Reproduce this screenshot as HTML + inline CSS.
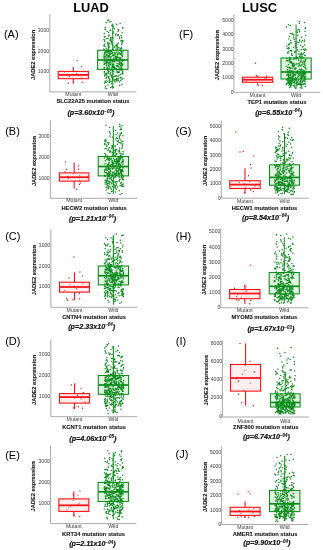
<!DOCTYPE html>
<html lang="en"><head><meta charset="utf-8"><title>JADE2 expression by mutation status</title>
<style>html,body{margin:0;padding:0;background:#fff}body{width:323px;height:550px;overflow:hidden}svg{display:block}</style></head>
<body>
<svg width="323" height="550" viewBox="0 0 323 550">
<rect width="323" height="550" fill="#fff"/>
<g font-family="'Liberation Sans', Arial, sans-serif">
<text x="91" y="11.7" font-size="12.8" font-weight="bold" text-anchor="middle" fill="#000">LUAD</text>
<text x="259.5" y="12.2" font-size="12.9" font-weight="bold" text-anchor="middle" fill="#000">LUSC</text>
<g><path d="M49.8 14.5V91.95H136.2" stroke="#9c9c9c" stroke-width="0.85" fill="none"/><text x="49.05" y="31.5" font-size="5.05" text-anchor="end" fill="#3c3c3c">3000</text><text x="49.05" y="52.5" font-size="5.05" text-anchor="end" fill="#3c3c3c">2000</text><text x="49.05" y="73.2" font-size="5.05" text-anchor="end" fill="#3c3c3c">1000</text><text transform="translate(35.4 54.93) rotate(-90) scale(0.94 1)" font-size="6.1" font-weight="bold" text-anchor="middle" fill="#1a1a1a" stroke="#1a1a1a" stroke-width="0.12">JADE2 expression</text><text x="3.9" y="37.6" font-size="11" fill="#000">(A)</text><path d="M112.8 23.6V50.2M112.8 69.4V88.8" stroke="#0c8c1c" stroke-width="1" fill="none"/><rect x="97.6" y="50.2" width="30.4" height="19.2" fill="#e0f4e0" stroke="#0c8c1c" stroke-width="1.05"/><path d="M97.6 60H128" stroke="#0c8c1c" stroke-width="1.68"/><path d="M106.7 88.8h0M105.2 88.1h0M110.8 87.6h0M113.5 87.3h0M112.1 86.8h0M105.5 86.2h0M119.7 85.5h0M108.1 85.1h0M122 84.3h0M111.4 83.8h0M104.7 83h0M109.4 82.5h0M106.1 82.4h0M119.5 82h0M115 81.9h0M111 81.7h0M105 81.6h0M107.8 81.5h0M112 81.3h0M115 81.2h0M109.6 81.1h0M117.2 80.9h0M114.8 80.8h0M120.6 80.6h0M109.3 80.5h0M106.1 80.3h0M118.3 80.2h0M113.2 80.1h0M116.6 80h0M114.8 79.8h0M109.8 79.6h0M115.2 79.5h0M112.6 79.4h0M121.9 79.2h0M116.6 79.1h0M117.3 79h0M122.9 78.8h0M109.3 78.7h0M116.6 78.6h0M112.7 78.5h0M106 78.3h0M118.6 78.2h0M108.6 78.1h0M120.5 77.9h0M112.4 77.8h0M120.8 77.6h0M120.4 77.4h0M111.8 77.4h0M120.8 77.2h0M106.7 77h0M108.3 77h0M113.1 76.8h0M108.8 76.6h0M111.8 76.6h0M114.7 76.4h0M117.1 76.2h0M115.7 76.1h0M104.8 75.9h0M118.8 75.8h0M119.1 75.6h0M111.5 75.6h0M116 75.5h0M105.1 75.3h0M106.9 75.2h0M104.8 75h0M106.7 74.9h0M110.8 74.8h0M120.6 74.6h0M106.7 74.4h0M110.5 74.3h0M106.2 74.2h0M122.9 74h0M113.1 73.9h0M105.8 73.8h0M108.9 73.6h0M106.9 73.4h0M122.1 73.4h0M106.6 73.2h0M104.3 73h0M122.6 72.9h0M117.2 72.7h0M110.8 72.7h0M118.6 72.5h0M118.8 72.4h0M108.1 72.3h0M122.7 72h0M119.3 71.9h0M118 71.8h0M113.7 71.7h0M104.4 71.6h0M109.2 71.5h0M117.1 71.3h0M112.4 71.1h0M122.8 70.9h0M110.8 70.8h0M108.2 70.7h0M107.7 70.6h0M121.1 70.4h0M113 70.2h0M119.2 70.1h0M116.5 70.1h0M118.8 69.8h0M113 69.7h0M119 69.7h0M119.2 69.5h0M111.4 69.3h0M122 69.3h0M107.1 69.2h0M106.7 69.1h0M119.3 69h0M119.7 68.9h0M116.4 68.8h0M114.3 68.7h0M104.1 68.7h0M116.3 68.5h0M121.7 68.5h0M120.5 68.4h0M107.9 68.3h0M109.4 68.2h0M115.1 68.1h0M111.8 68h0M121.3 68h0M112.6 67.8h0M121.2 67.7h0M121.4 67.7h0M114 67.6h0M104.2 67.5h0M107.3 67.4h0M119.1 67.3h0M112.9 67.2h0M114.5 67.1h0M113.8 67h0M118.9 66.9h0M114.6 66.9h0M109.1 66.8h0M113.5 66.6h0M118.4 66.6h0M112.3 66.5h0M113.5 66.4h0M117.1 66.3h0M114 66.2h0M121.9 66.1h0M120.6 66h0M108.8 65.9h0M121.9 65.9h0M106.4 65.7h0M112.3 65.7h0M108.4 65.6h0M116.7 65.5h0M121 65.4h0M117.5 65.4h0M106.5 65.2h0M122.4 65.1h0M122.1 65.1h0M113.2 65h0M119.8 64.8h0M112.1 64.8h0M110.3 64.7h0M109.9 64.6h0M104.2 64.5h0M112.3 64.4h0M110.2 64.4h0M113.6 64.2h0M122.7 64.2h0M122.5 64h0M108.9 64h0M118.8 63.9h0M106.3 63.8h0M121.3 63.7h0M108.8 63.6h0M121.4 63.6h0M117.2 63.4h0M104.9 63.4h0M112 63.3h0M121.8 63.2h0M119.2 63.1h0M120.2 63h0M120.4 62.9h0M110.3 62.8h0M121.6 62.7h0M106.3 62.7h0M108.4 62.5h0M106.9 62.5h0M107.7 62.4h0M109.7 62.3h0M109.4 62.2h0M107.2 62.1h0M104.1 62h0M104.1 61.9h0M114.4 61.8h0M112.9 61.8h0M105.8 61.6h0M112.1 61.5h0M119.8 61.5h0M113.5 61.4h0M122.7 61.3h0M119.8 61.2h0M116 61.1h0M110.5 61h0M106.3 61h0M118 60.9h0M106.9 60.8h0M120 60.7h0M116.7 60.5h0M108.5 60.5h0M112.6 60.4h0M112.4 60.3h0M122.3 60.2h0M114.3 60.1h0M122.3 60.1h0M110.6 60h0M111.1 59.9h0M113.5 59.8h0M113.5 59.7h0M108.9 59.6h0M111.5 59.5h0M104.2 59.4h0M108.3 59.3h0M114 59.2h0M116.4 59.1h0M120.7 59h0M110.1 58.9h0M106.7 58.8h0M116.1 58.7h0M119.8 58.7h0M115.8 58.5h0M119.4 58.4h0M113.9 58.4h0M119.8 58.3h0M119.7 58.2h0M120.9 58.1h0M117.1 58h0M104.4 57.9h0M110.7 57.8h0M119.8 57.8h0M115.9 57.6h0M116.9 57.5h0M103.9 57.4h0M118.2 57.3h0M114.1 57.2h0M105.1 57.1h0M108.6 57h0M108.9 57h0M107.7 56.9h0M122.5 56.8h0M111.1 56.7h0M116.9 56.6h0M115.6 56.5h0M105.3 56.4h0M108.7 56.3h0M109.6 56.2h0M104 56.1h0M109 56.1h0M117.1 55.9h0M109.4 55.8h0M112.7 55.8h0M106.1 55.7h0M107.6 55.5h0M121.8 55.4h0M112.6 55.4h0M122.4 55.3h0M109 55.2h0M122 55.1h0M115 55h0M113.9 54.9h0M106.3 54.8h0M113.6 54.7h0M117.3 54.6h0M121 54.6h0M104.3 54.4h0M113.2 54.4h0M109.6 54.3h0M110.4 54.2h0M119.9 54.1h0M118.2 54h0M106.1 53.9h0M117.5 53.8h0M109.4 53.7h0M111.3 53.6h0M115.1 53.5h0M112 53.4h0M104.7 53.3h0M119.8 53.3h0M121.8 53.2h0M108.9 53.1h0M107.4 53h0M122.2 52.9h0M119.4 52.7h0M121.3 52.7h0M114.3 52.5h0M104.7 52.5h0M112.5 52.4h0M116.2 52.3h0M104.7 52.2h0M106.2 52.1h0M110.4 52h0M118 51.9h0M108.8 51.8h0M109.6 51.7h0M111.4 51.6h0M106.9 51.6h0M121.2 51.5h0M108 51.4h0M122.9 51.2h0M106.5 51.2h0M105.5 51.1h0M105.5 51h0M108.8 50.9h0M120.8 50.8h0M111.7 50.7h0M113.9 50.6h0M110.3 50.5h0M109.1 50.5h0M106.2 50.3h0M115.9 50.2h0M107.9 50.1h0M108.6 50h0M112.4 49.8h0M120.1 49.5h0M104.2 49.4h0M117.4 49.3h0M112.9 49h0M103.8 48.9h0M121.6 48.7h0M120.2 48.5h0M108.6 48.3h0M106.8 48.3h0M116.9 48h0M117.7 47.8h0M118.5 47.7h0M114.4 47.5h0M118.8 47.4h0M121.5 47.2h0M109.6 47h0M108.6 46.9h0M117.2 46.6h0M105.2 46.5h0M115 46.3h0M108.1 46.1h0M104 45.9h0M112.6 45.8h0M116.2 45.5h0M112.9 45.4h0M108.5 45.3h0M117.3 45h0M104.2 44.9h0M116.7 44.7h0M108.7 44.6h0M121.6 44.4h0M104.5 44.3h0M111.9 44.1h0M107.6 43.8h0M118 43.6h0M107.7 43.5h0M109.8 43.3h0M108.2 43.1h0M118.4 43h0M122.1 42.9h0M107.4 42.7h0M111.8 42.5h0M122 42.2h0M111.4 42.1h0M122.5 41.8h0M104.8 41.6h0M111.4 41.3h0M120.8 40.9h0M123 40.7h0M110.1 40.4h0M121.8 40.3h0M104.4 40h0M111.1 39.7h0M110.2 39.6h0M103.9 39.4h0M110.5 39.1h0M106.2 38.7h0M107.8 38.5h0M119.6 38.4h0M112.1 38h0M112.9 37.9h0M121.5 37.6h0M110.8 37.4h0M104.4 37h0M119.4 36.9h0M104.6 36.6h0M105 36.5h0M108.7 36h0M121.1 35.8h0M109 35.7h0M115.6 35.3h0M117.6 35.2h0M109.1 35h0M118.3 34.7h0M116 34h0M104.3 33.5h0M112.9 33.4h0M122.1 32.7h0M108.6 32.6h0M113.3 32.1h0M107.3 31.5h0M118 31.2h0M118.6 30.8h0M110.1 30.4h0M110.7 30.2h0M105.3 29.6h0M118.3 29.4h0M105 29h0M114.4 28.7h0M122.6 28.1h0M122.8 27.5h0M105.4 27.3h0M113.4 26.8h0M112.4 25.6h0M111.8 25.3h0M116.7 24.2h0M120.1 23.4h0M106.1 22.8h0M109.4 21.9h0M111 21.4h0M107.6 20.5h0M108.5 20.1h0" stroke="#0c8c1c" stroke-width="1.52" stroke-linecap="round" fill="none"/><path d="M73.3 67.1V71.4M73.3 78.7V83.8" stroke="#fa1216" stroke-width="1.1" fill="none"/><rect x="58.2" y="71.4" width="30.2" height="7.3" fill="#feeeee" stroke="#fa1216" stroke-width="1.1"/><path d="M58.2 74.9H88.4" stroke="#fa1216" stroke-width="1.76"/><path d="M81.8 77.9h0M69.5 76.4h0M84.1 75.5h0M67.4 74.4h0M76.7 73.2h0M64.6 72h0" stroke="#fa1216" stroke-width="1.1" stroke-linecap="round" fill="none"/><path d="M77.2 60.6h0M81.7 66.8h0M68.3 83.3h0M82.2 82.3h0" stroke="#fa1216" stroke-width="1.4" stroke-linecap="round" fill="none"/><text x="73.3" y="96.05" font-size="5.2" text-anchor="middle" fill="#3c3c3c">Mutant</text><text x="112.8" y="96.05" font-size="5.2" text-anchor="middle" fill="#3c3c3c">Wild</text><text transform="translate(93 103.4) scale(0.94 1)" font-size="6.15" font-weight="bold" text-anchor="middle" fill="#1a1a1a" stroke="#1a1a1a" stroke-width="0.12">SLC22A25 mutation status</text><text x="90.9" y="115.1" font-size="7.2" font-weight="bold" font-style="italic" text-anchor="middle" fill="#111" stroke="#111" stroke-width="0.18">(p=3.60x10<tspan font-size="4.5" dy="-2.3" stroke-width="0.1">−05</tspan><tspan dy="2.3">)</tspan></text></g>
<g><path d="M50.4 120.3V198.3H137.1" stroke="#9c9c9c" stroke-width="0.85" fill="none"/><text x="49.65" y="137.6" font-size="5.05" text-anchor="end" fill="#3c3c3c">3000</text><text x="49.65" y="158.7" font-size="5.05" text-anchor="end" fill="#3c3c3c">2000</text><text x="49.65" y="179.5" font-size="5.05" text-anchor="end" fill="#3c3c3c">1000</text><text transform="translate(36 161) rotate(-90) scale(0.94 1)" font-size="6.1" font-weight="bold" text-anchor="middle" fill="#1a1a1a" stroke="#1a1a1a" stroke-width="0.12">JADE2 expression</text><text x="5.2" y="134.9" font-size="11" fill="#000">(B)</text><path d="M113.35 126V156.5M113.35 175.9V194" stroke="#0c8c1c" stroke-width="1" fill="none"/><rect x="98.2" y="156.5" width="30.3" height="19.4" fill="#e0f4e0" stroke="#0c8c1c" stroke-width="1.05"/><path d="M98.2 166.5H128.5" stroke="#0c8c1c" stroke-width="1.68"/><path d="M120.1 194.4h0M121.9 193.6h0M110 193.5h0M108 193h0M115.5 192h0M111.5 191.5h0M113 191h0M119.3 190.8h0M106.4 190h0M116.3 189.6h0M111.4 189.3h0M108.3 188.8h0M115.9 188.2h0M108.3 187.9h0M110.6 187.9h0M107.9 187.7h0M108.3 187.6h0M114.9 187.4h0M106.3 187.3h0M114.9 187.2h0M106.1 187h0M117.7 186.9h0M109.8 186.8h0M122.7 186.6h0M115.2 186.5h0M112.3 186.4h0M123.5 186.2h0M108.1 186.1h0M108.3 185.9h0M121.7 185.9h0M120.1 185.7h0M121.3 185.6h0M107.5 185.4h0M114.9 185.4h0M121.8 185.2h0M116.3 185.1h0M114 184.9h0M109.8 184.8h0M122.1 184.6h0M113.8 184.6h0M122.9 184.3h0M106.8 184.3h0M123.1 184.1h0M105.4 184h0M111.8 183.8h0M116.3 183.7h0M107.4 183.6h0M108.6 183.4h0M120.6 183.3h0M107.9 183.2h0M112 183.1h0M111.7 182.9h0M109.1 182.9h0M121.6 182.6h0M115.1 182.6h0M105.1 182.4h0M106.6 182.2h0M114.9 182.1h0M110.2 182h0M115.5 181.9h0M117 181.8h0M112.8 181.6h0M116.2 181.6h0M108.9 181.4h0M119.3 181.2h0M107.8 181.1h0M106.4 181h0M112.6 180.9h0M112.8 180.8h0M105.1 180.6h0M105.9 180.4h0M119.3 180.3h0M105.4 180.2h0M111.6 180h0M107 179.9h0M123.5 179.7h0M120 179.6h0M123.2 179.6h0M122.7 179.4h0M107.5 179.2h0M122.2 179.1h0M111.1 179h0M107.4 178.8h0M109.6 178.7h0M107.1 178.6h0M122 178.5h0M109.4 178.4h0M110.5 178.2h0M107.8 178.1h0M122.3 178h0M121.5 177.8h0M119.4 177.7h0M114.5 177.6h0M111.3 177.4h0M115 177.2h0M121.3 177.1h0M123.4 177.1h0M111.9 176.9h0M109.4 176.7h0M115.4 176.6h0M119 176.5h0M107.7 176.4h0M105.3 176.2h0M109.2 176.1h0M123.2 175.9h0M117.1 175.8h0M104.4 175.8h0M107.2 175.7h0M112.6 175.6h0M121.5 175.5h0M108.7 175.4h0M104.8 175.3h0M111.2 175.3h0M111.2 175.2h0M115.6 175.1h0M108.3 175h0M113.5 174.9h0M122.3 174.8h0M107.2 174.7h0M116.6 174.6h0M119.4 174.5h0M109.4 174.4h0M116.7 174.4h0M111.1 174.2h0M112.9 174.1h0M118.4 174h0M121.7 174h0M114.6 173.9h0M108.9 173.8h0M119.3 173.7h0M114.9 173.7h0M107.1 173.5h0M116 173.5h0M116.7 173.3h0M107.7 173.2h0M110.1 173.2h0M121.4 173.1h0M118.1 173h0M120.6 172.9h0M113.3 172.8h0M113 172.7h0M106.4 172.7h0M105.1 172.6h0M118.7 172.5h0M120.6 172.3h0M109.5 172.3h0M112.7 172.2h0M114.4 172.1h0M116.7 172h0M108.5 171.9h0M104.6 171.8h0M108.9 171.8h0M122.5 171.6h0M110.6 171.5h0M110.7 171.4h0M121.8 171.4h0M117.7 171.3h0M123.1 171.2h0M120.5 171.1h0M120.8 171h0M118.3 170.9h0M110.3 170.8h0M116.3 170.8h0M121.8 170.7h0M104.9 170.6h0M122.2 170.5h0M107.1 170.4h0M105.1 170.3h0M116.5 170.2h0M118.5 170.1h0M115.7 170.1h0M120 170h0M121.5 169.8h0M121 169.8h0M122.5 169.6h0M108.3 169.6h0M105 169.5h0M119.9 169.4h0M120.2 169.3h0M109.9 169.2h0M106.2 169.2h0M108.3 169h0M112.5 169h0M109.3 168.9h0M118.1 168.8h0M110.5 168.7h0M114 168.6h0M116.2 168.5h0M112.3 168.5h0M119.2 168.3h0M117.9 168.3h0M108.5 168.2h0M106.1 168h0M107.6 167.9h0M108.2 167.9h0M123.1 167.8h0M113.8 167.8h0M119.6 167.6h0M113.8 167.6h0M120.3 167.5h0M122.5 167.4h0M108.5 167.3h0M113.9 167.2h0M116.6 167.1h0M119.5 167h0M119.5 166.9h0M111.2 166.8h0M111.9 166.7h0M106 166.6h0M104.8 166.5h0M109.4 166.5h0M114 166.3h0M121.3 166.3h0M113.2 166.2h0M118.8 166.1h0M116.8 166h0M110.6 165.9h0M120.5 165.8h0M118.6 165.7h0M112.8 165.6h0M115.5 165.5h0M113.2 165.4h0M108.9 165.3h0M110.1 165.2h0M120.5 165.1h0M107.3 165.1h0M110.6 165h0M107.4 164.8h0M108 164.8h0M118.3 164.6h0M122.8 164.6h0M111.7 164.5h0M119.6 164.3h0M112.7 164.2h0M116.6 164.2h0M108.3 164.1h0M105 164h0M119.5 163.9h0M114 163.8h0M113.2 163.7h0M115.9 163.6h0M118.6 163.5h0M112.6 163.4h0M118.7 163.3h0M108.7 163.2h0M121.2 163.1h0M117.8 163h0M117.4 162.9h0M113.1 162.8h0M116.4 162.8h0M112.4 162.7h0M118 162.5h0M109.2 162.4h0M113.1 162.4h0M112.2 162.3h0M122.2 162.1h0M116.9 162.1h0M111.8 161.9h0M123.1 161.9h0M114.8 161.8h0M119.4 161.7h0M114.3 161.6h0M115.4 161.5h0M118.1 161.4h0M116.6 161.3h0M114.4 161.2h0M122.6 161.1h0M117.5 161.1h0M119 160.9h0M123.3 160.9h0M105.4 160.8h0M112 160.7h0M112.4 160.6h0M117.8 160.5h0M109.4 160.4h0M118.6 160.3h0M114.5 160.1h0M119.7 160.1h0M108.4 160h0M119.3 159.9h0M116.5 159.8h0M115.1 159.7h0M122.9 159.6h0M116.6 159.5h0M120 159.4h0M110 159.3h0M106.8 159.2h0M111.2 159.1h0M109.5 159h0M109.2 158.9h0M107.9 158.8h0M118.2 158.8h0M109.1 158.7h0M113.6 158.6h0M116.6 158.5h0M111.3 158.3h0M120.8 158.2h0M120.2 158.2h0M119.4 158h0M120.3 158h0M104.6 157.9h0M122.6 157.8h0M109.2 157.7h0M107.1 157.6h0M119.3 157.5h0M107.3 157.4h0M119.6 157.3h0M121.5 157.2h0M119.4 157.1h0M121.5 157h0M120.5 156.9h0M117.7 156.9h0M118.6 156.7h0M121.3 156.6h0M109.4 156.5h0M107 156.5h0M105.5 156.2h0M107.1 156h0M113.9 155.9h0M120.9 155.7h0M120.5 155.6h0M115.2 155.3h0M120.5 155.1h0M112.4 155h0M105.8 154.7h0M116.6 154.5h0M116.1 154.5h0M122.2 154.2h0M123.2 154h0M113.7 153.8h0M105 153.6h0M116.4 153.4h0M120.9 153.3h0M113.5 153.1h0M119.1 152.9h0M112.7 152.8h0M115 152.6h0M110 152.3h0M112.1 152.1h0M109.6 152h0M123.1 151.8h0M119.6 151.6h0M110.4 151.5h0M115.6 151.3h0M119.4 151h0M118.2 151h0M114.8 150.6h0M110.1 150.6h0M108 150.4h0M116 150.1h0M119.5 149.9h0M116.1 149.7h0M116.4 149.6h0M115.8 149.4h0M108.4 149.2h0M113.1 149h0M106.3 148.8h0M105.1 148.7h0M121.9 148.4h0M111.4 148.2h0M119.5 147.9h0M109.3 147.7h0M112.4 147.5h0M112.6 147.3h0M122.3 146.9h0M115.2 146.8h0M106.6 146.6h0M115.4 146.1h0M112.9 145.8h0M111.8 145.8h0M122.4 145.4h0M113.5 145.1h0M106.3 144.9h0M108.4 144.6h0M104.6 144.5h0M117.5 144.3h0M122.9 144h0M121 143.7h0M104.7 143.5h0M109 143.1h0M107.9 142.8h0M119.2 142.7h0M120.8 142.3h0M106 142h0M118 141.8h0M122.3 141.6h0M122.9 141.4h0M104.6 141h0M116.8 140.9h0M105.9 140.5h0M118.4 140.3h0M120.9 140h0M105.5 139.4h0M115.4 139.1h0M117.3 138.6h0M119.7 138.3h0M116.7 137.8h0M112.4 137.2h0M119.4 136.9h0M119.4 136.2h0M110 136h0M123 135.8h0M120.2 135h0M116 134.8h0M120.3 134.1h0M110.3 133.8h0M121.4 133.4h0M117.5 133h0M121.6 132.5h0M109.8 131.9h0M109.4 131.7h0M115.6 130.6h0M121.4 129.6h0M120.3 129.4h0M121 128h0M109.6 127.4h0M119.8 126.4h0M121.9 125.8h0M106 125.3h0M119.7 124.3h0" stroke="#0c8c1c" stroke-width="1.52" stroke-linecap="round" fill="none"/><path d="M74.15 162.4V172.9M74.15 181.1V188.5" stroke="#fa1216" stroke-width="1.1" fill="none"/><rect x="59.4" y="172.9" width="29.5" height="8.2" fill="#feeeee" stroke="#fa1216" stroke-width="1.1"/><path d="M59.4 177.2H88.9" stroke="#fa1216" stroke-width="1.76"/><path d="M79.7 180.3h0M68.3 178.4h0M78.1 177.6h0M67.7 176.6h0M79.7 175.7h0M73.3 173.8h0" stroke="#fa1216" stroke-width="1.1" stroke-linecap="round" fill="none"/><path d="M65.5 162.1h0M78.3 165.9h0M78.6 169.3h0M66.7 169.3h0M65 171.7h0M80.2 183h0M79.4 184.4h0M76.6 189.2h0" stroke="#fa1216" stroke-width="1.4" stroke-linecap="round" fill="none"/><text x="74.15" y="202" font-size="5.2" text-anchor="middle" fill="#3c3c3c">Mutant</text><text x="113.35" y="202" font-size="5.2" text-anchor="middle" fill="#3c3c3c">Wild</text><text transform="translate(94.1 209.5) scale(0.94 1)" font-size="6.15" font-weight="bold" text-anchor="middle" fill="#1a1a1a" stroke="#1a1a1a" stroke-width="0.12">HECW2 mutation status</text><text x="92.6" y="220.6" font-size="7.2" font-weight="bold" font-style="italic" text-anchor="middle" fill="#111" stroke="#111" stroke-width="0.18">(p=1.21x10<tspan font-size="4.5" dy="-2.3" stroke-width="0.1">−04</tspan><tspan dy="2.3">)</tspan></text></g>
<g><path d="M50.85 229.5V307.3H137.3" stroke="#9c9c9c" stroke-width="0.85" fill="none"/><text x="50.1" y="247.1" font-size="5.05" text-anchor="end" fill="#3c3c3c">3000</text><text x="50.1" y="267.8" font-size="5.05" text-anchor="end" fill="#3c3c3c">2000</text><text x="50.1" y="288.3" font-size="5.05" text-anchor="end" fill="#3c3c3c">1000</text><text transform="translate(36.45 270.1) rotate(-90) scale(0.94 1)" font-size="6.1" font-weight="bold" text-anchor="middle" fill="#1a1a1a" stroke="#1a1a1a" stroke-width="0.12">JADE2 expression</text><text x="5.2" y="239.6" font-size="11" fill="#000">(C)</text><path d="M113.4 235.2V266M113.4 284.9V304.6" stroke="#0c8c1c" stroke-width="1" fill="none"/><rect x="98.3" y="266" width="30.2" height="18.9" fill="#e0f4e0" stroke="#0c8c1c" stroke-width="1.05"/><path d="M98.3 275.7H128.5" stroke="#0c8c1c" stroke-width="1.68"/><path d="M119.9 303.2h0M108.9 302.3h0M121.6 301.9h0M114.4 301.2h0M115.7 300.9h0M108.1 300.6h0M117.9 300.1h0M115.2 299.5h0M114.3 298.9h0M105.3 298.5h0M111.6 297.6h0M116.5 297.6h0M107.4 296.8h0M111 296.7h0M104.8 296.5h0M123.4 296.5h0M113.7 296.2h0M109.4 296.2h0M112.6 296h0M119.1 295.8h0M122.9 295.7h0M105.1 295.7h0M107.9 295.6h0M105.4 295.4h0M121.1 295.3h0M122.6 295.1h0M105.6 295h0M112 294.9h0M122.8 294.8h0M115.2 294.7h0M122.8 294.5h0M111.9 294.3h0M107.5 294.2h0M123.4 294h0M105.1 294h0M111.2 293.9h0M121.8 293.7h0M105.3 293.5h0M118 293.4h0M123.3 293.3h0M107.2 293.3h0M122.4 293h0M110.1 292.9h0M119 292.8h0M110.6 292.7h0M106.8 292.6h0M107.6 292.4h0M107.1 292.3h0M104.6 292.2h0M108.1 292h0M122.2 292h0M122.3 291.8h0M121.5 291.6h0M113 291.6h0M122.2 291.5h0M116.5 291.2h0M110.9 291.1h0M113.6 291h0M107.1 290.9h0M105.5 290.8h0M115 290.6h0M121.1 290.5h0M112.3 290.4h0M109.6 290.3h0M110.8 290.1h0M113.8 290h0M121.7 289.9h0M123.2 289.8h0M121.6 289.7h0M108.5 289.4h0M109.9 289.3h0M108.3 289.2h0M123.4 289.1h0M122.2 288.9h0M110 288.9h0M105.5 288.6h0M110 288.5h0M104.7 288.4h0M110.9 288.3h0M104.4 288.2h0M114.5 288h0M112.8 288h0M108.6 287.7h0M107.1 287.7h0M119.2 287.6h0M108.2 287.4h0M106.1 287.3h0M113.9 287.1h0M108.4 287.1h0M118 286.9h0M115.6 286.7h0M105.7 286.7h0M112.2 286.5h0M105.5 286.4h0M110.8 286.2h0M121 286.1h0M104.7 286h0M113.6 285.8h0M109.5 285.7h0M120.4 285.6h0M107.5 285.5h0M115.8 285.4h0M114.4 285.3h0M114.3 285.1h0M118.1 285h0M121 284.8h0M118.1 284.8h0M118.8 284.7h0M121.2 284.6h0M113.9 284.5h0M114.6 284.4h0M104.8 284.3h0M108.7 284.2h0M106.4 284.2h0M120.1 284.1h0M106.3 284h0M108.1 283.9h0M115.9 283.8h0M114.4 283.7h0M106.4 283.6h0M118.2 283.5h0M106.8 283.5h0M114 283.4h0M106.7 283.3h0M107 283.2h0M120.9 283.1h0M115.4 283h0M107.6 282.9h0M122.4 282.8h0M112.5 282.8h0M114.5 282.6h0M122.5 282.6h0M110.9 282.5h0M110.8 282.4h0M123.2 282.3h0M121.9 282.2h0M120.7 282.1h0M114.3 282.1h0M122.3 281.9h0M112.5 281.9h0M111.4 281.8h0M105.7 281.7h0M114.1 281.6h0M107.1 281.6h0M119.3 281.4h0M116.6 281.3h0M121.4 281.2h0M105.1 281.1h0M109.5 281.1h0M109.6 281h0M122.1 280.9h0M109.2 280.8h0M112.7 280.7h0M109.9 280.6h0M116.8 280.6h0M115.8 280.5h0M114.3 280.3h0M113.4 280.3h0M107.2 280.2h0M106.9 280.2h0M112.2 280.1h0M109.1 280h0M114.9 279.9h0M116.1 279.7h0M116.9 279.7h0M118 279.6h0M114.9 279.5h0M113.4 279.4h0M109.1 279.4h0M114.2 279.3h0M115.6 279.2h0M111.2 279.1h0M109 279h0M113.8 278.9h0M123.4 278.8h0M119.2 278.7h0M105.7 278.7h0M112.8 278.5h0M111.8 278.5h0M118.5 278.4h0M108.7 278.3h0M118.6 278.2h0M110.9 278.1h0M117.4 278h0M120.7 277.9h0M114.3 277.8h0M118.7 277.7h0M113.5 277.6h0M118 277.6h0M106.8 277.5h0M104.5 277.4h0M115.6 277.3h0M122.9 277.2h0M112.4 277.1h0M121.2 277h0M111.7 277h0M113.2 276.9h0M110 276.8h0M115.1 276.7h0M110.6 276.6h0M120.7 276.5h0M112.9 276.4h0M110.2 276.4h0M115.4 276.3h0M106.1 276.2h0M110.6 276.1h0M120.5 276h0M108.3 275.9h0M121.9 275.8h0M105.3 275.8h0M113.9 275.6h0M119.3 275.5h0M123.6 275.5h0M114.3 275.4h0M111.9 275.3h0M115.8 275.2h0M122.6 275.1h0M114.5 275h0M111.6 275h0M115.2 274.8h0M121.3 274.7h0M113.7 274.6h0M116.4 274.6h0M111 274.4h0M120.1 274.4h0M110.5 274.3h0M120.3 274.1h0M106.5 274.1h0M117.6 274h0M123.4 273.9h0M112.5 273.8h0M110 273.7h0M114.1 273.6h0M107.9 273.6h0M116 273.4h0M123.5 273.4h0M105.2 273.2h0M119.5 273.2h0M117.7 273.1h0M110.2 273h0M115.7 272.9h0M108.2 272.8h0M115 272.7h0M116.8 272.6h0M123.5 272.5h0M112.3 272.4h0M107.4 272.4h0M106.4 272.2h0M107.7 272.2h0M120.2 272h0M119.9 271.9h0M104.6 271.9h0M110.6 271.7h0M111.2 271.7h0M109.5 271.6h0M121.8 271.5h0M111.1 271.4h0M111.8 271.3h0M121.5 271.3h0M122.8 271.1h0M116.3 271h0M105.2 271h0M120.8 270.8h0M121.7 270.8h0M110.2 270.6h0M122.8 270.6h0M122.6 270.5h0M111.9 270.4h0M108.7 270.3h0M121.2 270.2h0M119.6 270.1h0M107.7 270h0M108 269.9h0M110 269.8h0M106.6 269.7h0M111.8 269.6h0M105.7 269.6h0M120.3 269.5h0M109.1 269.4h0M109.8 269.3h0M105.1 269.2h0M111 269.1h0M118 269h0M109.6 268.9h0M106.9 268.8h0M120.5 268.7h0M107.5 268.6h0M118.3 268.6h0M122.8 268.5h0M122.7 268.4h0M108.8 268.3h0M106.9 268.2h0M109.4 268.1h0M115.7 267.9h0M109.1 267.9h0M108.5 267.8h0M106.8 267.7h0M114.8 267.6h0M119.2 267.5h0M117 267.4h0M110.4 267.3h0M106.1 267.3h0M120.7 267.2h0M117.1 267.1h0M115.2 267h0M114 266.9h0M105.7 266.8h0M108.7 266.7h0M118.2 266.6h0M112.1 266.5h0M119.3 266.4h0M120.9 266.3h0M109.7 266.3h0M117.4 266.2h0M111.1 266h0M117.1 265.9h0M109.2 265.7h0M111.2 265.5h0M107.9 265.3h0M121.9 265.3h0M118.1 265h0M105.2 264.9h0M108.2 264.7h0M111.7 264.5h0M110.4 264.4h0M107.8 264.1h0M115.3 263.9h0M109.3 263.7h0M117.5 263.6h0M104.4 263.4h0M119.3 263.1h0M105.2 263h0M116.1 262.8h0M109.1 262.7h0M119.6 262.5h0M122 262.3h0M106.1 262.1h0M112 261.9h0M120.3 261.7h0M106.1 261.6h0M112.5 261.3h0M117.7 261.1h0M120.3 261h0M113.1 260.8h0M117.8 260.7h0M114.2 260.5h0M106.9 260.2h0M105.2 260.1h0M119.9 259.9h0M114.9 259.8h0M116.6 259.5h0M109.2 259.4h0M111.3 259.3h0M108.3 259h0M107 258.9h0M117.3 258.6h0M109 258.5h0M112.9 258.3h0M111.1 258h0M121.4 257.9h0M115.2 257.7h0M120.1 257.4h0M119 257.1h0M117.2 257h0M113.3 256.6h0M120.4 256.3h0M110 256.2h0M108.4 255.9h0M109.8 255.7h0M117.9 255.4h0M106.6 255.1h0M113.4 254.9h0M107.6 254.6h0M104.6 254.5h0M118.8 254h0M118.2 253.9h0M115.2 253.5h0M113.8 253.4h0M108 253.1h0M104.6 252.8h0M116.8 252.5h0M122.4 252.3h0M109.2 252h0M107.1 251.9h0M119.3 251.7h0M110.1 251.2h0M116.7 251.1h0M122.2 250.7h0M119.5 250.6h0M118.7 250.2h0M107.9 250.1h0M110.5 249.5h0M115 249.3h0M120.4 248.8h0M105.2 248.5h0M116.5 247.9h0M117.9 247.4h0M122.5 246.9h0M114 246.7h0M110.2 246.4h0M105.9 245.8h0M107.5 245.3h0M123 245h0M105.2 244.7h0M108.1 244.1h0M104.5 243.6h0M120.8 243.1h0M112.6 242.7h0M117.1 242.5h0M112.5 242h0M112.8 241.4h0M120.3 240.3h0M107.6 239.4h0M112.9 239.1h0M111.1 238.1h0M106 237.7h0M113.2 236.8h0M121.8 235.5h0M123.1 234.9h0M116.3 234h0" stroke="#0c8c1c" stroke-width="1.52" stroke-linecap="round" fill="none"/><path d="M74.5 272.2V282.2M74.5 292.1V300.2" stroke="#fa1216" stroke-width="1.1" fill="none"/><rect x="59.5" y="282.2" width="30" height="9.9" fill="#feeeee" stroke="#fa1216" stroke-width="1.1"/><path d="M59.5 287H89.5" stroke="#fa1216" stroke-width="1.76"/><path d="M64.8 290.3h0M76.9 289h0M76.1 288.1h0M74.1 285.7h0M70.1 284.7h0M83 283.7h0" stroke="#fa1216" stroke-width="1.1" stroke-linecap="round" fill="none"/><path d="M74 257h0M79.9 272h0M82.5 275.9h0M69 277.9h0M79.4 293.3h0M66.7 298.8h0M67.8 300.3h0M72.9 299.8h0M79.7 298.8h0" stroke="#fa1216" stroke-width="1.4" stroke-linecap="round" fill="none"/><text x="74.5" y="312.1" font-size="5.2" text-anchor="middle" fill="#3c3c3c">Mutant</text><text x="113.4" y="312.1" font-size="5.2" text-anchor="middle" fill="#3c3c3c">Wild</text><text transform="translate(94 319.05) scale(0.94 1)" font-size="6.15" font-weight="bold" text-anchor="middle" fill="#1a1a1a" stroke="#1a1a1a" stroke-width="0.12">CNTN4 mutation status</text><text x="91.7" y="328.6" font-size="7.2" font-weight="bold" font-style="italic" text-anchor="middle" fill="#111" stroke="#111" stroke-width="0.18">(p=2.33x10<tspan font-size="4.5" dy="-2.3" stroke-width="0.1">−04</tspan><tspan dy="2.3">)</tspan></text></g>
<g><path d="M50.85 339.5V416.7H137" stroke="#9c9c9c" stroke-width="0.85" fill="none"/><text x="50.1" y="356.2" font-size="5.05" text-anchor="end" fill="#3c3c3c">3000</text><text x="50.1" y="377" font-size="5.05" text-anchor="end" fill="#3c3c3c">2000</text><text x="50.1" y="398" font-size="5.05" text-anchor="end" fill="#3c3c3c">1000</text><text transform="translate(36.45 379.8) rotate(-90) scale(0.94 1)" font-size="6.1" font-weight="bold" text-anchor="middle" fill="#1a1a1a" stroke="#1a1a1a" stroke-width="0.12">JADE2 expression</text><text x="5.2" y="344.8" font-size="11" fill="#000">(D)</text><path d="M113.45 346V375.5M113.45 394.3V413.3" stroke="#0c8c1c" stroke-width="1" fill="none"/><rect x="98.3" y="375.5" width="30.3" height="18.8" fill="#e0f4e0" stroke="#0c8c1c" stroke-width="1.05"/><path d="M98.3 385H128.6" stroke="#0c8c1c" stroke-width="1.68"/><path d="M108.1 413.5h0M113 412.6h0M117.1 412.4h0M115.6 411.7h0M114.6 411.1h0M112.1 410.5h0M107.9 410.2h0M115 409.3h0M121 409.2h0M106.3 408.6h0M109.3 407.9h0M115.1 407.4h0M115.4 407h0M114.3 406.7h0M106 406.5h0M105.9 406.4h0M121 406.3h0M118.2 406.1h0M106.7 405.9h0M118.3 405.8h0M120.4 405.8h0M107.7 405.6h0M115.3 405.4h0M107.1 405.3h0M105.6 405.1h0M111.6 405.1h0M115.9 405h0M110.2 404.8h0M112.6 404.6h0M116.4 404.4h0M115.3 404.3h0M121.2 404.2h0M118.8 404.1h0M119.1 404h0M120.3 403.8h0M111.6 403.7h0M122.7 403.5h0M105.3 403.4h0M106.4 403.3h0M119.9 403.1h0M122.2 403.1h0M109.3 402.9h0M113 402.8h0M115.6 402.6h0M104.9 402.5h0M119.8 402.4h0M115.1 402.2h0M117.6 402.1h0M107.2 401.9h0M114.8 401.7h0M120 401.6h0M104.7 401.5h0M107.3 401.4h0M121.2 401.3h0M105.1 401.1h0M120.2 401h0M112 400.8h0M107.5 400.7h0M112 400.5h0M116.2 400.4h0M110.8 400.4h0M121.6 400.2h0M105.3 400h0M111.4 399.9h0M115.5 399.8h0M111.2 399.7h0M115.6 399.6h0M104.8 399.4h0M123.4 399.2h0M107.2 399.2h0M109.7 398.9h0M114.1 398.9h0M115.4 398.7h0M122.8 398.6h0M105.1 398.4h0M119.3 398.3h0M119.3 398.1h0M116.6 398h0M109.9 397.9h0M121.2 397.7h0M117.5 397.5h0M119.1 397.5h0M114.2 397.3h0M111.2 397.2h0M112.2 397.1h0M110.9 397h0M123.4 396.8h0M111.5 396.7h0M109 396.6h0M107.1 396.4h0M121.2 396.3h0M113 396.1h0M110.3 396h0M105.7 395.9h0M110.4 395.7h0M115 395.6h0M111 395.4h0M115.7 395.3h0M107.9 395.2h0M123.4 395h0M119.3 394.9h0M121.1 394.8h0M113.8 394.7h0M109.7 394.4h0M104.9 394.4h0M109.6 394.3h0M108.6 394.1h0M108.3 394.1h0M121 394h0M108.2 393.9h0M122.9 393.8h0M106 393.7h0M121.3 393.6h0M107.1 393.6h0M114.8 393.5h0M116.7 393.3h0M108.5 393.2h0M118.8 393.2h0M112.2 393.1h0M110.9 393h0M112.4 393h0M116.5 392.9h0M113.9 392.8h0M109.4 392.7h0M104.7 392.6h0M115.3 392.4h0M105.5 392.4h0M118.4 392.3h0M106.2 392.2h0M107.2 392.2h0M106.2 392h0M112.6 391.9h0M115.7 391.9h0M117.1 391.8h0M110.8 391.7h0M109.4 391.6h0M119.1 391.5h0M110.4 391.4h0M123.2 391.3h0M109.8 391.2h0M122.5 391.2h0M104.6 391.1h0M117 391h0M111.4 390.9h0M108.8 390.8h0M106.2 390.7h0M107 390.7h0M114.1 390.6h0M107.9 390.4h0M111.5 390.3h0M107.9 390.3h0M122.1 390.2h0M105 390.1h0M109.1 390h0M114 389.9h0M111.1 389.8h0M113.3 389.7h0M121.8 389.7h0M118.5 389.6h0M116.8 389.5h0M121 389.4h0M115.3 389.3h0M122.1 389.2h0M116.5 389.1h0M109.3 389.1h0M112.8 389h0M108.4 388.9h0M116.8 388.7h0M123.5 388.7h0M115.4 388.6h0M121 388.5h0M109.6 388.4h0M120.2 388.3h0M110.8 388.3h0M121.6 388.1h0M117.6 388.1h0M113.1 388h0M121.4 387.9h0M121.4 387.8h0M119.4 387.7h0M108 387.6h0M123.6 387.5h0M104.9 387.5h0M123.2 387.4h0M122 387.3h0M118.6 387.2h0M107.7 387.1h0M106.2 387h0M122.1 386.9h0M121.4 386.8h0M105.1 386.7h0M119.7 386.7h0M105.2 386.5h0M108.9 386.5h0M106.5 386.4h0M123.5 386.3h0M121.3 386.2h0M113.8 386.1h0M112.7 386.1h0M117.6 386h0M118.6 385.9h0M106.6 385.8h0M114 385.7h0M111.2 385.5h0M123 385.5h0M118.5 385.4h0M107.9 385.3h0M105.8 385.2h0M114.2 385.2h0M115.1 385.1h0M104.7 385h0M117 384.8h0M115 384.8h0M123.3 384.7h0M118.2 384.6h0M110.6 384.5h0M123.1 384.4h0M111.8 384.3h0M107.2 384.2h0M104.6 384.1h0M122.2 384h0M116.2 384h0M109.1 383.9h0M106.7 383.8h0M119.5 383.7h0M105.4 383.6h0M110.7 383.5h0M115 383.4h0M123.1 383.3h0M118.8 383.3h0M114.2 383.1h0M123.5 383h0M116.5 383h0M111.7 382.9h0M112 382.8h0M116.2 382.7h0M110.6 382.6h0M114.9 382.5h0M116.2 382.4h0M121.9 382.4h0M118.3 382.2h0M113.6 382.1h0M107.2 382.1h0M114.6 381.9h0M114.6 381.9h0M109 381.8h0M120.2 381.7h0M116.7 381.6h0M121.6 381.5h0M105.3 381.4h0M120.4 381.3h0M106.8 381.2h0M109.3 381.2h0M111.3 381.1h0M114.5 380.9h0M106.1 380.9h0M123.6 380.8h0M113.1 380.7h0M119.8 380.6h0M107.3 380.5h0M111.5 380.4h0M109 380.3h0M111 380.3h0M104.8 380.2h0M115.4 380.1h0M107.9 380h0M109.7 379.9h0M109.1 379.8h0M106.2 379.7h0M120.9 379.6h0M112.6 379.6h0M116.3 379.4h0M105.3 379.4h0M111.5 379.3h0M110.1 379.1h0M116.9 379.1h0M111.2 379h0M115.6 378.9h0M108.1 378.8h0M118.1 378.7h0M117.2 378.6h0M105.8 378.5h0M111.7 378.4h0M114 378.3h0M119 378.2h0M115.8 378.2h0M113.3 378.1h0M112.4 378h0M121.5 377.9h0M113.9 377.8h0M120.3 377.7h0M118.7 377.6h0M105.2 377.5h0M115.1 377.4h0M119.2 377.3h0M108.7 377.3h0M120.1 377.2h0M106.1 377.1h0M115.3 377h0M117.5 376.9h0M113.7 376.8h0M117.7 376.8h0M115.7 376.6h0M120.1 376.5h0M107.2 376.4h0M114.4 376.4h0M123.4 376.3h0M109.5 376.2h0M109.3 376.1h0M115.1 376h0M112.5 375.9h0M110.3 375.9h0M119.8 375.7h0M109.4 375.6h0M105.5 375.6h0M111.6 375.4h0M113.8 375.2h0M111.5 375h0M108.3 374.8h0M115.1 374.6h0M110.5 374.6h0M112.3 374.3h0M110.7 374.1h0M119.7 374h0M118.1 373.8h0M115.8 373.5h0M122.4 373.4h0M121.3 373.2h0M112.8 373.1h0M105.4 372.8h0M105.8 372.6h0M107.9 372.5h0M115.2 372.2h0M114 372.1h0M117.4 371.9h0M108.5 371.8h0M107.2 371.5h0M108.4 371.3h0M106.3 371.3h0M122.7 371h0M117.1 370.8h0M121.8 370.7h0M107.4 370.4h0M117.8 370.4h0M120.5 370.2h0M108.9 370h0M110.6 369.7h0M107.4 369.5h0M110.7 369.3h0M107.4 369.1h0M123.3 368.9h0M105.1 368.8h0M116.8 368.7h0M114.9 368.5h0M113.4 368.3h0M112.7 368h0M106.6 367.9h0M106.8 367.7h0M123.6 367.5h0M114.6 367.2h0M111.1 367.1h0M114 366.7h0M106.2 366.4h0M121 366.3h0M114.8 366h0M107.1 365.9h0M121.6 365.6h0M108.8 365.2h0M105.1 364.9h0M123 364.7h0M122.6 364.5h0M105.4 364.2h0M113.1 364h0M118.7 363.8h0M119.6 363.6h0M105.8 363.3h0M106.3 362.9h0M119.6 362.7h0M113.3 362.4h0M114.3 362.3h0M116.9 362h0M115.5 361.8h0M111.6 361.5h0M107.6 361.1h0M122.5 361h0M120.6 360.7h0M113.7 360.3h0M106.3 360.2h0M106.7 359.8h0M114.7 359.6h0M113.4 359.5h0M114.7 359.1h0M111.5 358.5h0M112.2 358.2h0M106.9 357.8h0M121.2 357.4h0M121.5 356.8h0M122.6 356.6h0M119.6 356h0M117.7 355.5h0M118.9 355.2h0M109.5 354.8h0M112 354.5h0M110.1 353.8h0M106.1 353.2h0M108.9 353h0M119.5 352.5h0M105.6 352h0M116 351.8h0M105.2 350.9h0M117.7 350.4h0M111 349.5h0M113.3 348.7h0M104.7 347.9h0M112.4 347.1h0M106.1 346.7h0M118.5 346.1h0M107.4 345h0M107.1 344.5h0M108.7 343.8h0" stroke="#0c8c1c" stroke-width="1.52" stroke-linecap="round" fill="none"/><path d="M74.55 383.9V393.6M74.55 403.1V408.9" stroke="#fa1216" stroke-width="1.1" fill="none"/><rect x="59.5" y="393.6" width="30.1" height="9.5" fill="#feeeee" stroke="#fa1216" stroke-width="1.1"/><path d="M59.5 397.1H89.6" stroke="#fa1216" stroke-width="1.76"/><path d="M85 401.9h0M81 398.9h0M74.5 398h0M83.5 396.3h0M77.6 395.4h0M77.3 395h0" stroke="#fa1216" stroke-width="1.1" stroke-linecap="round" fill="none"/><path d="M71.4 385h0M74.8 383.9h0M81 388.6h0M83.3 392.4h0M73.2 407.9h0M78.3 406.8h0M82.5 408.2h0" stroke="#fa1216" stroke-width="1.4" stroke-linecap="round" fill="none"/><text x="74.55" y="421.1" font-size="5.2" text-anchor="middle" fill="#3c3c3c">Mutant</text><text x="113.45" y="421.1" font-size="5.2" text-anchor="middle" fill="#3c3c3c">Wild</text><text transform="translate(94 428.6) scale(0.94 1)" font-size="6.15" font-weight="bold" text-anchor="middle" fill="#1a1a1a" stroke="#1a1a1a" stroke-width="0.12">KCNT1 mutation status</text><text x="92.8" y="440.5" font-size="7.2" font-weight="bold" font-style="italic" text-anchor="middle" fill="#111" stroke="#111" stroke-width="0.18">(p=4.06x10<tspan font-size="4.5" dy="-2.3" stroke-width="0.1">−05</tspan><tspan dy="2.3">)</tspan></text></g>
<g><path d="M50.55 445.8V523.6H136.2" stroke="#9c9c9c" stroke-width="0.85" fill="none"/><text x="49.8" y="463" font-size="5.05" text-anchor="end" fill="#3c3c3c">3000</text><text x="49.8" y="484.1" font-size="5.05" text-anchor="end" fill="#3c3c3c">2000</text><text x="49.8" y="504.9" font-size="5.05" text-anchor="end" fill="#3c3c3c">1000</text><text transform="translate(35.45 486.4) rotate(-90) scale(0.94 1)" font-size="6.1" font-weight="bold" text-anchor="middle" fill="#1a1a1a" stroke="#1a1a1a" stroke-width="0.12">JADE2 expression</text><text x="5.2" y="458.9" font-size="11" fill="#000">(E)</text><path d="M113.25 452.5V482.4M113.25 501.5V519.4" stroke="#0c8c1c" stroke-width="1" fill="none"/><rect x="98.1" y="482.4" width="30.3" height="19.1" fill="#e0f4e0" stroke="#0c8c1c" stroke-width="1.05"/><path d="M98.1 491.8H128.4" stroke="#0c8c1c" stroke-width="1.68"/><path d="M119.4 519.6h0M118 519.4h0M107.4 518.8h0M117.2 518h0M106.8 517.6h0M122.2 517h0M118.6 516.5h0M119.7 516h0M112.6 515.6h0M119.3 515h0M110 514.4h0M114.5 513.9h0M106.5 513.5h0M119.4 513.3h0M120.3 513.3h0M108.1 513.2h0M108.8 513h0M121.7 512.9h0M117.9 512.7h0M119.3 512.6h0M117.4 512.5h0M120.1 512.3h0M105.9 512.2h0M120.3 512.1h0M115.7 512h0M119.5 511.8h0M113.6 511.8h0M106.4 511.6h0M112.3 511.4h0M113 511.3h0M108.4 511.2h0M120.5 511.1h0M109.9 510.9h0M109.5 510.9h0M112.7 510.6h0M119.7 510.5h0M117.4 510.5h0M120.1 510.3h0M109.5 510.2h0M111.2 510h0M121.3 509.9h0M121.4 509.7h0M113.8 509.6h0M114 509.4h0M107.9 509.3h0M107.4 509.2h0M104.3 509.1h0M122.4 509h0M119.8 508.9h0M111 508.8h0M114.9 508.6h0M114.1 508.4h0M122.1 508.3h0M117 508.2h0M116.2 508.1h0M122.6 507.9h0M116.9 507.8h0M111.5 507.7h0M117.2 507.5h0M113.8 507.4h0M123 507.3h0M120.3 507.2h0M115 507h0M118.7 506.9h0M118.2 506.7h0M104.9 506.6h0M106.9 506.5h0M121.4 506.3h0M115.5 506.3h0M105.1 506.1h0M118.6 506h0M109.6 505.8h0M109.8 505.7h0M112.3 505.6h0M116.7 505.4h0M117.2 505.3h0M122.7 505.2h0M117.5 505.1h0M107.4 505h0M120.1 504.8h0M110.9 504.7h0M114.2 504.6h0M107.4 504.4h0M107.5 504.3h0M105.3 504.2h0M111.6 504.1h0M122.7 503.8h0M110.2 503.8h0M108 503.6h0M112.7 503.5h0M109.2 503.4h0M111.7 503.3h0M109.4 503.1h0M121.7 503h0M120.3 502.9h0M119.2 502.7h0M107.2 502.6h0M113.3 502.4h0M117.1 502.3h0M109.5 502.2h0M121.9 502.1h0M109.8 502h0M109.2 501.8h0M105 501.7h0M115.1 501.5h0M122.3 501.5h0M108.9 501.4h0M114.8 501.3h0M117.3 501.2h0M119.8 501.1h0M110.1 501h0M122.8 500.9h0M117.5 500.8h0M111.8 500.7h0M118.5 500.6h0M111.8 500.5h0M111 500.4h0M121 500.4h0M114.3 500.2h0M121.6 500.1h0M110.8 500.1h0M112.2 500h0M120.6 499.9h0M115.3 499.8h0M115.3 499.7h0M120.5 499.6h0M120.3 499.5h0M117.1 499.5h0M113.9 499.3h0M121.5 499.2h0M120 499.1h0M121.1 499h0M117.8 499h0M116 498.8h0M105.5 498.8h0M120.1 498.7h0M108.3 498.6h0M106.1 498.5h0M123 498.4h0M111.2 498.3h0M105.6 498.2h0M110.5 498.1h0M116.3 498.1h0M109.5 498h0M112.8 497.9h0M119.8 497.8h0M120.1 497.7h0M108.6 497.6h0M110.8 497.5h0M115.2 497.4h0M119.5 497.3h0M120.4 497.2h0M114.6 497.1h0M119.2 497.1h0M113.9 497h0M105.5 496.8h0M118.2 496.7h0M111.9 496.6h0M115.6 496.6h0M120.9 496.5h0M119.7 496.3h0M110.6 496.2h0M105.6 496.1h0M106.8 496.1h0M117.4 496h0M113 495.9h0M107.9 495.8h0M109.7 495.7h0M118.4 495.7h0M112.7 495.5h0M117.8 495.5h0M109.3 495.4h0M117.7 495.3h0M118.6 495.1h0M121.9 495h0M118.1 495h0M108.2 494.9h0M120.8 494.8h0M116.3 494.7h0M111.1 494.6h0M116.4 494.6h0M110.1 494.4h0M107.6 494.4h0M121.5 494.3h0M113 494.1h0M106.3 494.1h0M119.2 494h0M123.3 493.9h0M119.5 493.7h0M120 493.7h0M106.3 493.6h0M114 493.5h0M109.1 493.4h0M121.7 493.4h0M122.4 493.2h0M112.6 493.1h0M111.6 493h0M120.4 492.9h0M104.5 492.9h0M115.5 492.8h0M104.4 492.7h0M119.3 492.6h0M105.1 492.5h0M114.5 492.4h0M110.5 492.3h0M121.2 492.2h0M116.5 492.1h0M108.9 492.1h0M111.6 491.9h0M115.6 491.9h0M108.1 491.8h0M115.5 491.7h0M117.8 491.6h0M105.5 491.5h0M105.3 491.4h0M111.9 491.3h0M118 491.2h0M116.7 491.2h0M113.3 491h0M121.7 491h0M105.5 490.9h0M123.2 490.8h0M111.8 490.7h0M120.1 490.6h0M118.5 490.5h0M106.1 490.5h0M119.7 490.3h0M105.2 490.3h0M122.1 490.2h0M117.2 490.1h0M116.5 489.9h0M109.3 489.8h0M104.6 489.8h0M106.2 489.7h0M117.9 489.6h0M119.7 489.5h0M114.1 489.5h0M119.4 489.4h0M121.8 489.2h0M120.6 489.2h0M120 489.1h0M116.2 489h0M119.6 488.9h0M105.3 488.8h0M109.8 488.7h0M104.4 488.6h0M104.7 488.5h0M119.8 488.4h0M106.6 488.4h0M108.2 488.3h0M106.4 488.2h0M114.7 488h0M106.1 488h0M120.6 487.9h0M106.2 487.8h0M110.1 487.7h0M107.1 487.6h0M123 487.5h0M104.4 487.4h0M106.4 487.4h0M115.7 487.3h0M113 487.2h0M116 487.1h0M121.8 487h0M119.5 486.9h0M120.3 486.8h0M104.8 486.7h0M120.6 486.6h0M121.1 486.6h0M122.4 486.5h0M117.8 486.4h0M110 486.3h0M110.5 486.2h0M112.8 486.2h0M116.8 486h0M118.9 485.9h0M123.3 485.8h0M109.5 485.7h0M112.2 485.7h0M108.7 485.6h0M121.9 485.5h0M119 485.4h0M121.3 485.3h0M114.5 485.2h0M120.1 485.2h0M116.3 485.1h0M114.6 485h0M107.3 484.8h0M116.7 484.8h0M122.3 484.7h0M121.8 484.6h0M122.8 484.5h0M108.3 484.5h0M121.7 484.3h0M109.2 484.3h0M123.3 484.1h0M112.7 484.1h0M117.5 483.9h0M118.7 483.9h0M109.2 483.8h0M117.5 483.7h0M109.2 483.6h0M116.6 483.5h0M116.8 483.4h0M117.6 483.3h0M105.5 483.3h0M104.5 483.2h0M107 483.1h0M113.7 483h0M117.5 482.9h0M119 482.8h0M106.2 482.7h0M112.1 482.6h0M112.8 482.5h0M106.1 482.4h0M110.8 482.2h0M104.8 482.1h0M108.6 481.9h0M119.7 481.7h0M109.6 481.5h0M107.9 481.5h0M107.3 481.1h0M115.5 481h0M107.7 480.8h0M106.1 480.7h0M111.6 480.4h0M115.2 480.3h0M105.5 480.2h0M120.6 480h0M122.7 479.8h0M118.1 479.6h0M119.4 479.4h0M111.3 479.2h0M106.4 479h0M119.5 478.9h0M111.6 478.7h0M108.6 478.4h0M108.5 478.3h0M111.3 478.1h0M113.3 477.9h0M105.2 477.6h0M120.3 477.5h0M104.8 477.4h0M106.5 477.2h0M117.9 477h0M106.5 476.9h0M107.6 476.6h0M112.7 476.5h0M105.6 476.3h0M113.3 476.1h0M114.9 475.8h0M108.5 475.8h0M115.1 475.5h0M122.7 475.3h0M106.4 475.1h0M114.3 474.9h0M107.5 474.8h0M108.3 474.5h0M109.3 474.5h0M113.1 474.1h0M105.7 473.9h0M110.4 473.7h0M117 473.5h0M106.5 473.2h0M113.5 472.8h0M104.5 472.7h0M114.1 472.4h0M113.3 472.3h0M114.6 471.8h0M113.8 471.7h0M116.8 471.3h0M119.7 471.2h0M118.5 470.7h0M111.3 470.5h0M107.7 470.2h0M115.7 470.2h0M105.8 469.7h0M104.9 469.6h0M106.9 469.3h0M118.6 469.1h0M122.3 468.8h0M117.3 468.6h0M122.5 468.4h0M113.4 468.1h0M122.5 467.8h0M123.3 467.5h0M108.4 467.2h0M108.1 466.9h0M113 466.6h0M122.7 466.6h0M112.1 466.3h0M117.1 465.9h0M111.4 465.6h0M120.1 465.1h0M115.9 464.7h0M113 464.2h0M117.9 463.6h0M108.9 463.4h0M122.7 463h0M106.9 462.5h0M115.4 461.9h0M105.3 461.4h0M107.5 461.2h0M112.9 460.6h0M121.3 460.3h0M120.8 459.7h0M109.4 459.2h0M112.1 458.8h0M121.8 458.7h0M104.6 458.3h0M109.8 457.5h0M121 456.2h0M114.4 455.8h0M119.7 454.7h0M114.1 454.1h0M108.9 453.8h0M115.5 452.6h0M121.5 451.7h0M107.9 450.8h0M121.5 450.7h0" stroke="#0c8c1c" stroke-width="1.52" stroke-linecap="round" fill="none"/><path d="M73.85 491.2V498.9M73.85 511.4V516.7" stroke="#fa1216" stroke-width="1.1" fill="none"/><rect x="58.9" y="498.9" width="29.9" height="12.5" fill="#feeeee" stroke="#fa1216" stroke-width="1.1"/><path d="M58.9 505.3H88.8" stroke="#fa1216" stroke-width="1.76"/><path d="M66.8 509.8h0M68.5 507.7h0M70.9 506.7h0M77.8 504.3h0M79.2 503.2h0M73.2 500.2h0" stroke="#fa1216" stroke-width="1.1" stroke-linecap="round" fill="none"/><path d="M79.9 490.9h0M73.2 494.7h0M77.9 495.1h0M74.3 514.9h0M79.7 516.5h0" stroke="#fa1216" stroke-width="1.4" stroke-linecap="round" fill="none"/><text x="73.85" y="528.3" font-size="5.2" text-anchor="middle" fill="#3c3c3c">Mutant</text><text x="113.25" y="528.3" font-size="5.2" text-anchor="middle" fill="#3c3c3c">Wild</text><text transform="translate(93.5 535.5) scale(0.94 1)" font-size="6.15" font-weight="bold" text-anchor="middle" fill="#1a1a1a" stroke="#1a1a1a" stroke-width="0.12">KRT34 mutation status</text><text x="92.4" y="546.2" font-size="7.2" font-weight="bold" font-style="italic" text-anchor="middle" fill="#111" stroke="#111" stroke-width="0.18">(p=2.11x10<tspan font-size="4.5" dy="-2.3" stroke-width="0.1">−04</tspan><tspan dy="2.3">)</tspan></text></g>
<g><path d="M233.9 14.6V92.3H320.2" stroke="#9c9c9c" stroke-width="0.85" fill="none"/><text x="233.5" y="22" font-size="5.05" text-anchor="end" fill="#3c3c3c">5000</text><text x="233.5" y="36.2" font-size="5.05" text-anchor="end" fill="#3c3c3c">4000</text><text x="233.5" y="50.6" font-size="5.05" text-anchor="end" fill="#3c3c3c">3000</text><text x="233.5" y="64.9" font-size="5.05" text-anchor="end" fill="#3c3c3c">2000</text><text x="233.5" y="79.2" font-size="5.05" text-anchor="end" fill="#3c3c3c">1000</text><text x="233.5" y="93.5" font-size="5.05" text-anchor="end" fill="#3c3c3c">0</text><text transform="translate(218.7 55.15) rotate(-90) scale(0.94 1)" font-size="6.1" font-weight="bold" text-anchor="middle" fill="#1a1a1a" stroke="#1a1a1a" stroke-width="0.12">JADE2 expression</text><text x="179" y="37.6" font-size="11" fill="#000">(F)</text><path d="M296.1 24.5V58M296.1 79V88.4" stroke="#0c8c1c" stroke-width="1" fill="none"/><rect x="281" y="58" width="30.2" height="21" fill="#e0f4e0" stroke="#0c8c1c" stroke-width="1.05"/><path d="M281 72H311.2" stroke="#0c8c1c" stroke-width="1.68"/><path d="M302 88.3h0M295.6 88.2h0M300.2 87.7h0M289.8 87.5h0M301.8 87.1h0M294.7 87h0M290.3 86.5h0M305.2 86.4h0M290.8 86h0M293.3 85.7h0M301.4 85.5h0M290.6 85.3h0M291.5 85.1h0M288.9 85.1h0M294.5 85h0M297.7 84.9h0M297.6 84.8h0M300.1 84.8h0M289.7 84.7h0M286.5 84.6h0M289.4 84.5h0M305.3 84.5h0M302.7 84.4h0M298.8 84.3h0M305.3 84.2h0M301.4 84.2h0M291.3 84.1h0M298.1 84h0M303.5 83.9h0M290.1 83.9h0M296.8 83.9h0M291.6 83.7h0M286.3 83.7h0M300 83.6h0M290.8 83.6h0M300.3 83.5h0M286.6 83.4h0M304.7 83.3h0M289.1 83.2h0M296.5 83.2h0M294.5 83.1h0M291.3 83h0M287.9 83h0M288 82.9h0M300 82.8h0M301.9 82.8h0M293 82.7h0M289.9 82.6h0M297.3 82.5h0M289.2 82.5h0M293.8 82.4h0M290.7 82.3h0M302.1 82.2h0M297.8 82.2h0M300.2 82.1h0M301.9 82h0M288 82h0M297.4 81.9h0M290 81.8h0M288.3 81.7h0M291 81.7h0M294.6 81.6h0M300.5 81.5h0M300.5 81.5h0M292 81.4h0M299.9 81.3h0M304.1 81.2h0M292.4 81.2h0M291.4 81.1h0M290.7 81h0M302.6 80.9h0M305.2 80.9h0M292.3 80.8h0M300.5 80.7h0M298.3 80.7h0M287.2 80.6h0M289.2 80.5h0M303.6 80.4h0M290.1 80.4h0M296.2 80.3h0M293.4 80.2h0M296.7 80.1h0M288.3 80.1h0M293.9 80h0M291.2 79.9h0M290.6 79.9h0M295.6 79.8h0M301.5 79.7h0M295 79.7h0M304.7 79.5h0M288.3 79.5h0M298.8 79.4h0M286.9 79.4h0M304.2 79.3h0M295.4 79.2h0M292.1 79.1h0M301.1 79.1h0M294.9 79h0M294 79h0M305.3 78.9h0M291.9 78.8h0M288.9 78.7h0M287.6 78.7h0M296.7 78.6h0M289.5 78.5h0M301.3 78.4h0M292.9 78.4h0M291 78.3h0M288.5 78.2h0M300.9 78.2h0M304.1 78h0M305.1 78h0M291.9 77.9h0M300.4 77.9h0M288.8 77.8h0M305.2 77.7h0M302.3 77.7h0M291.1 77.6h0M295.5 77.5h0M289.1 77.4h0M292.6 77.3h0M300.9 77.3h0M289.9 77.2h0M302.5 77.1h0M297.6 77h0M301.3 77h0M304 76.9h0M292.7 76.8h0M302.4 76.7h0M293.4 76.7h0M293.2 76.6h0M288.4 76.6h0M304.2 76.5h0M298.8 76.4h0M301.2 76.3h0M304.4 76.3h0M305.8 76.2h0M301.1 76.1h0M291.2 76h0M293.7 76h0M288.8 75.9h0M292.9 75.8h0M293 75.7h0M303 75.7h0M289 75.6h0M300.9 75.5h0M299.1 75.5h0M303.4 75.4h0M295.2 75.3h0M301.7 75.3h0M303.4 75.2h0M292.9 75.1h0M288.2 75.1h0M286.7 75h0M290.7 74.9h0M287.5 74.9h0M290.1 74.7h0M294.2 74.7h0M305.1 74.6h0M298.7 74.6h0M295.5 74.4h0M300.7 74.4h0M303.5 74.3h0M288.3 74.3h0M302.6 74.2h0M295.8 74.1h0M303.6 74.1h0M290.3 74h0M293.4 73.9h0M300 73.8h0M304.3 73.8h0M297.9 73.7h0M300.4 73.6h0M288 73.5h0M302.4 73.5h0M293.3 73.4h0M300.9 73.3h0M290.5 73.2h0M305.9 73.2h0M293.7 73.1h0M304.6 73h0M292.2 73h0M300.7 72.9h0M297 72.8h0M299.4 72.8h0M305.1 72.7h0M297.3 72.6h0M289.8 72.5h0M297.1 72.4h0M303.4 72.4h0M304.5 72.3h0M286.7 72.3h0M304 72.2h0M305.1 72.1h0M304.7 72h0M289 71.9h0M302.1 71.8h0M298.1 71.7h0M291.7 71.5h0M296.4 71.4h0M288 71.2h0M292.9 71.1h0M301 70.9h0M291.3 70.8h0M289.7 70.6h0M304.1 70.5h0M297.8 70.4h0M301 70.2h0M300.3 70h0M302.8 70h0M287.2 69.7h0M295 69.6h0M287.6 69.5h0M299.6 69.3h0M295.3 69.3h0M306 69h0M301.4 68.9h0M290.1 68.8h0M294.3 68.7h0M292.2 68.5h0M290.5 68.4h0M290 68.3h0M296.2 68.1h0M295.7 68h0M305.5 67.8h0M304.9 67.6h0M290.1 67.5h0M289.1 67.3h0M287.7 67.2h0M305.3 67h0M293.2 66.9h0M293.2 66.8h0M294 66.6h0M303.3 66.5h0M286.3 66.3h0M300.6 66.1h0M298.7 66.1h0M294.2 65.8h0M292.1 65.8h0M299.3 65.6h0M305 65.4h0M293.4 65.4h0M301.9 65.1h0M299.6 65h0M304.9 64.9h0M294.2 64.7h0M288.5 64.7h0M302 64.4h0M292.6 64.4h0M296 64.2h0M303.9 64.1h0M296.7 63.9h0M298.9 63.7h0M292.8 63.6h0M298.3 63.5h0M291.4 63.3h0M293.9 63.2h0M304.3 63h0M291.7 62.9h0M302.5 62.8h0M299.9 62.6h0M290 62.5h0M302.2 62.4h0M290.7 62.2h0M291.4 62.1h0M300.5 61.8h0M304.9 61.7h0M304.5 61.6h0M304.5 61.5h0M290 61.3h0M303.2 61.1h0M288 61h0M301.1 60.8h0M305.5 60.7h0M287.3 60.7h0M286.6 60.5h0M298.7 60.3h0M289.4 60.2h0M298.3 60.1h0M305.4 59.8h0M305.6 59.7h0M293.9 59.6h0M290.8 59.5h0M305.9 59.2h0M289.7 59.1h0M289.2 59.1h0M300.8 58.9h0M296.7 58.8h0M286.9 58.5h0M301.9 58.4h0M295.1 58.3h0M298.1 58.1h0M294 58h0M303.2 57.7h0M297.3 57.5h0M289.7 57.4h0M299.9 57.1h0M302.1 57h0M296.4 56.6h0M302 56.5h0M299.5 56.2h0M300.6 56h0M305.2 55.8h0M304.6 55.4h0M292.5 55.3h0M291.5 55.1h0M301.9 54.8h0M302.5 54.6h0M299.8 54.3h0M301.2 54.2h0M298.3 54h0M303.2 53.8h0M291.6 53.5h0M287.8 53.2h0M301.2 53h0M301.3 52.9h0M304.2 52.6h0M294.7 52.4h0M287.9 52.1h0M288.2 51.9h0M288.5 51.8h0M294.9 51.4h0M291.3 51.2h0M299 51h0M296 50.9h0M290.4 50.6h0M291.7 50.4h0M304.4 50.2h0M306 49.9h0M297.5 49.7h0M301.2 49.4h0M303.3 49.3h0M305 49.1h0M288.5 48.8h0M289.1 48.4h0M287.3 48.2h0M296.9 47.7h0M288.8 47.5h0M293.7 47.2h0M302.3 47h0M295.7 46.8h0M303.1 46.5h0M286.9 45.9h0M295.5 45.7h0M300.6 45.3h0M304.7 45.1h0M288.9 44.9h0M288.6 44.4h0M296.1 44.2h0M289.4 43.9h0M295.6 43.4h0M291.2 43.1h0M290.6 42.8h0M298.3 42.5h0M301.5 42.1h0M296.8 41.9h0M295 41.5h0M304.3 41.5h0M299.7 40.9h0M290.8 40.6h0M302.5 40.4h0M304.5 39.9h0M299.7 39.9h0M294.2 39.3h0M288.9 38.9h0M296 38.3h0M293.5 37.8h0M301.3 37.2h0M289.4 36.6h0M293.5 36h0M305.6 35.4h0M297.7 35.3h0M293.8 34.3h0M292.4 34h0M290.3 33.8h0M291.8 33.2h0M297.3 32.4h0M299.8 31.8h0M305 31.5h0M297 30.9h0M299.5 30h0M298.2 29.5h0M305.4 28.6h0M305.5 27.7h0M286.4 27h0M290.3 25.6h0M288.5 24.7h0M299.4 23.4h0M304.5 22.6h0M299.6 21.4h0" stroke="#0c8c1c" stroke-width="1.52" stroke-linecap="round" fill="none"/><path d="M257.55 76V77.2M257.55 82.3V83.5" stroke="#fa1216" stroke-width="1.1" fill="none"/><rect x="242.4" y="77.2" width="30.3" height="5.1" fill="#feeeee" stroke="#fa1216" stroke-width="1.1"/><path d="M242.4 79.75H272.7" stroke="#fa1216" stroke-width="1.76"/><path d="M246.6 81.2h0M255.9 81h0M253.4 79.8h0M246.7 79.4h0M266.4 78.8h0M264.7 78.1h0" stroke="#fa1216" stroke-width="1.1" stroke-linecap="round" fill="none"/><path d="M255.5 63.2h0M256.3 75.5h0M266.4 76.3h0M257.6 84.4h0M258.3 85.3h0M262.2 85.3h0" stroke="#fa1216" stroke-width="1.4" stroke-linecap="round" fill="none"/><text x="257.55" y="97.3" font-size="5.2" text-anchor="middle" fill="#3c3c3c">Mutant</text><text x="296.1" y="97.3" font-size="5.2" text-anchor="middle" fill="#3c3c3c">Wild</text><text transform="translate(277 103.7) scale(0.94 1)" font-size="6.15" font-weight="bold" text-anchor="middle" fill="#1a1a1a" stroke="#1a1a1a" stroke-width="0.12">TEP1 mutation status</text><text x="278.7" y="114.7" font-size="7.2" font-weight="bold" font-style="italic" text-anchor="middle" fill="#111" stroke="#111" stroke-width="0.18">(p=6.55x10<tspan font-size="4.5" dy="-2.3" stroke-width="0.1">−04</tspan><tspan dy="2.3">)</tspan></text></g>
<g><path d="M221.3 120.3V198.2H308.5" stroke="#9c9c9c" stroke-width="0.85" fill="none"/><text x="220.9" y="128" font-size="5.05" text-anchor="end" fill="#3c3c3c">5000</text><text x="220.9" y="142.2" font-size="5.05" text-anchor="end" fill="#3c3c3c">4000</text><text x="220.9" y="156.6" font-size="5.05" text-anchor="end" fill="#3c3c3c">3000</text><text x="220.9" y="170.9" font-size="5.05" text-anchor="end" fill="#3c3c3c">2000</text><text x="220.9" y="185.2" font-size="5.05" text-anchor="end" fill="#3c3c3c">1000</text><text x="220.9" y="199.5" font-size="5.05" text-anchor="end" fill="#3c3c3c">0</text><text transform="translate(206.9 160.95) rotate(-90) scale(0.94 1)" font-size="6.1" font-weight="bold" text-anchor="middle" fill="#1a1a1a" stroke="#1a1a1a" stroke-width="0.12">JADE2 expression</text><text x="175.6" y="134.8" font-size="11" fill="#000">(G)</text><path d="M284.5 133V164.8M284.5 185.2V194.3" stroke="#0c8c1c" stroke-width="1" fill="none"/><rect x="269.5" y="164.8" width="30" height="20.4" fill="#e0f4e0" stroke="#0c8c1c" stroke-width="1.05"/><path d="M269.5 177.4H299.5" stroke="#0c8c1c" stroke-width="1.68"/><path d="M278.6 195h0M291.1 194.7h0M293.1 194.4h0M292 194h0M281 193.7h0M282.6 193.3h0M275.9 193h0M294 192.7h0M289.4 192.6h0M277.5 192.3h0M287.7 192h0M294.3 191.6h0M286.9 191.5h0M277.8 191.4h0M285.5 191.3h0M292.4 191.3h0M277.4 191.2h0M277.6 191.2h0M290.5 191.1h0M284.6 191h0M285.7 190.9h0M285.4 190.8h0M275.8 190.8h0M279.3 190.7h0M279.4 190.6h0M279.4 190.5h0M284.1 190.5h0M281.2 190.4h0M279 190.3h0M291.1 190.2h0M284.6 190.2h0M286.6 190.1h0M276 190h0M281.2 190h0M287.4 189.9h0M280.7 189.8h0M293.1 189.7h0M277.7 189.7h0M281 189.6h0M288.6 189.5h0M277.9 189.4h0M277 189.4h0M287.4 189.3h0M287 189.2h0M284.6 189.2h0M276.6 189.1h0M288.8 189h0M277.9 188.9h0M283.2 188.8h0M276.4 188.8h0M274.7 188.7h0M282.5 188.6h0M276.3 188.6h0M294.3 188.5h0M279.9 188.4h0M279 188.3h0M288.2 188.3h0M277.7 188.2h0M285.4 188.1h0M292.8 188h0M284.5 188h0M278.4 187.9h0M284.4 187.8h0M280.4 187.7h0M290.7 187.6h0M277.4 187.6h0M277.1 187.5h0M288.4 187.4h0M293.9 187.3h0M288.8 187.3h0M276.8 187.2h0M275.7 187.1h0M288.9 187h0M288.4 187h0M288.7 186.9h0M294 186.8h0M274.7 186.8h0M289 186.7h0M287.2 186.6h0M291.9 186.6h0M276.9 186.4h0M287.9 186.4h0M275.4 186.4h0M291.9 186.3h0M280.9 186.1h0M290.2 186.1h0M286.2 186h0M287.4 185.9h0M285.8 185.8h0M284.9 185.8h0M281.3 185.7h0M284.7 185.7h0M279 185.6h0M284.6 185.5h0M282.9 185.4h0M278.3 185.3h0M280.1 185.3h0M288.5 185.2h0M284.8 185.1h0M292.9 185.1h0M282 185h0M282.6 184.9h0M290.8 184.8h0M289.1 184.7h0M283.6 184.7h0M280.7 184.6h0M289.5 184.5h0M278.7 184.4h0M290.1 184.3h0M288 184.2h0M288.3 184.1h0M275.8 184.1h0M275.2 184h0M285 183.9h0M293.7 183.8h0M279.1 183.7h0M276.7 183.7h0M289.2 183.6h0M281.9 183.5h0M284.2 183.5h0M292.3 183.3h0M291.8 183.3h0M282.9 183.2h0M293.9 183.1h0M277.7 183.1h0M292.9 183h0M281.2 182.9h0M292.2 182.8h0M278.4 182.7h0M282 182.6h0M292.5 182.6h0M282.5 182.5h0M279.7 182.4h0M282.3 182.4h0M274.8 182.2h0M289.7 182.2h0M288.1 182.1h0M278.3 182h0M288 182h0M280.4 181.8h0M291.5 181.8h0M279.2 181.6h0M286 181.6h0M275.3 181.5h0M287.4 181.5h0M284.7 181.4h0M278.8 181.3h0M282.8 181.2h0M292.5 181.1h0M294.1 181.1h0M291.6 181h0M286.2 180.9h0M275.4 180.8h0M290.6 180.7h0M290 180.7h0M294.1 180.6h0M282.1 180.5h0M287 180.4h0M291.3 180.3h0M282.3 180.2h0M276.7 180.1h0M289.5 180.1h0M294.3 180h0M283.7 180h0M274.6 179.9h0M276.4 179.8h0M283.2 179.7h0M280.3 179.6h0M284.8 179.5h0M278 179.4h0M284.4 179.4h0M291.7 179.3h0M292 179.2h0M281.2 179.1h0M285.8 179h0M276.3 179h0M281.9 178.8h0M287.6 178.8h0M281.1 178.7h0M291.3 178.7h0M282.9 178.6h0M281.7 178.4h0M277.8 178.4h0M287.8 178.3h0M282.6 178.2h0M290.2 178.2h0M291.1 178.1h0M289.1 178h0M279 178h0M288.1 177.8h0M284.4 177.7h0M278.5 177.7h0M287.4 177.6h0M279.7 177.5h0M277.3 177.4h0M278 177.3h0M280.8 177.2h0M277.3 177.1h0M286.8 176.9h0M280.7 176.9h0M285.4 176.7h0M290 176.5h0M279 176.4h0M291 176.3h0M289.5 176.2h0M283.5 176.1h0M290.9 175.9h0M276.7 175.8h0M275.3 175.6h0M293.8 175.5h0M279.9 175.4h0M278.1 175.2h0M284.9 175.1h0M292.2 175.1h0M291 174.9h0M285.1 174.7h0M278.6 174.6h0M281.3 174.4h0M281.3 174.4h0M276 174.3h0M277 174.1h0M280.4 174h0M292.8 173.9h0M291.8 173.7h0M283.3 173.5h0M280.2 173.4h0M290.7 173.3h0M279.1 173.2h0M292.9 173.1h0M286.7 172.9h0M277.4 172.8h0M283.8 172.7h0M283.6 172.5h0M293.5 172.5h0M289.3 172.3h0M279.5 172.1h0M282.4 172h0M278.9 171.9h0M281.9 171.7h0M284.5 171.6h0M289.5 171.6h0M291.9 171.4h0M278.8 171.3h0M289.1 171.2h0M282.6 171h0M277.7 170.9h0M283.9 170.7h0M290.2 170.6h0M288.9 170.5h0M290.7 170.4h0M280.1 170.3h0M284.2 170.1h0M286.1 170h0M283.3 169.9h0M290.4 169.8h0M291 169.6h0M286.5 169.4h0M277.1 169.3h0M280.4 169.2h0M290.2 169h0M290.7 168.9h0M287.9 168.8h0M278.3 168.6h0M282.8 168.6h0M277.6 168.4h0M291.8 168.3h0M277.5 168.2h0M286 168.1h0M284 167.9h0M283.3 167.8h0M291.2 167.6h0M293 167.6h0M275.4 167.4h0M285.9 167.2h0M278.9 167.1h0M280.7 167h0M279.1 166.8h0M287.4 166.7h0M284.1 166.6h0M287.3 166.5h0M277.6 166.3h0M289.1 166.2h0M291.2 166.1h0M275.6 165.9h0M276.3 165.9h0M276.3 165.7h0M279.6 165.6h0M283.7 165.5h0M290.2 165.3h0M276.9 165.2h0M274.8 165.1h0M276.7 165h0M290.1 164.8h0M278.7 164.5h0M289.6 164.4h0M293 164.1h0M280.8 163.9h0M293.4 163.7h0M283.3 163.4h0M289.8 163.2h0M284 162.9h0M282.6 162.8h0M282.7 162.4h0M285.7 162.2h0M286 162h0M285.6 161.9h0M276.2 161.5h0M292 161.4h0M274.9 161h0M287.1 160.8h0M283.9 160.6h0M280.5 160.5h0M289 160.1h0M287.3 160h0M287.6 159.7h0M283.3 159.6h0M286.4 159.3h0M277.1 159.1h0M280.3 158.8h0M280.7 158.5h0M290.6 158.3h0M289.1 158.2h0M293.1 158h0M288.9 157.8h0M278.2 157.4h0M284.5 157.2h0M277 157h0M280.5 156.7h0M282.2 156.4h0M279.1 156.3h0M281 155.9h0M291.1 155.8h0M289.6 155.6h0M276.8 155.4h0M283.5 155.2h0M278.6 154.6h0M289.7 154.4h0M277.6 154.1h0M283 153.7h0M292.4 153.3h0M285.7 153.2h0M275.3 152.8h0M292.7 152.4h0M286.2 152.2h0M275.8 151.7h0M276.8 151.3h0M288.8 151.2h0M282 151h0M284 150.6h0M277.6 150.3h0M276.2 149.9h0M278.5 149.7h0M277.3 149.2h0M282.9 148.8h0M279.4 148.6h0M275.5 148.1h0M276.5 147.8h0M282.7 147.4h0M291.7 147.2h0M275.9 147.1h0M286.2 146.5h0M280.1 146.2h0M278.3 146h0M280.2 145.5h0M280.5 144.9h0M287.3 144.5h0M290.5 144.1h0M279.1 143.3h0M284.7 143h0M288.8 142.2h0M282.8 141.8h0M280 141h0M292.3 140.4h0M293.3 139.8h0M290.7 139.7h0M278.6 138.9h0M287.4 138.2h0M285.6 137.8h0M291.7 137.6h0M279.7 137h0M278.4 136.1h0M288.7 135.3h0M287.7 134.7h0M284 133.7h0M288.2 132.2h0M278.4 131.8h0M282.3 129.9h0M282 129.5h0M289.3 128.3h0M282.6 127.3h0" stroke="#0c8c1c" stroke-width="1.52" stroke-linecap="round" fill="none"/><path d="M245 168.2V180.7M245 188.5V193.5" stroke="#fa1216" stroke-width="1.1" fill="none"/><rect x="229.8" y="180.7" width="30.4" height="7.8" fill="#feeeee" stroke="#fa1216" stroke-width="1.1"/><path d="M229.8 184.6H260.2" stroke="#fa1216" stroke-width="1.76"/><path d="M245.3 187.3h0M254.9 186.6h0M251.1 184.6h0M244.2 183.5h0M239.3 182.6h0M249.7 181.6h0" stroke="#fa1216" stroke-width="1.1" stroke-linecap="round" fill="none"/><path d="M235.8 131.9h0M240 152h0M243.2 151.4h0M253.9 155.9h0M250.5 164.6h0M251 168h0M248.5 175.7h0M250.5 190h0M253.3 191.5h0M244.3 192.8h0" stroke="#fa1216" stroke-width="1.4" stroke-linecap="round" fill="none"/><text x="245" y="203.2" font-size="5.2" text-anchor="middle" fill="#3c3c3c">Mutant</text><text x="284.5" y="203.2" font-size="5.2" text-anchor="middle" fill="#3c3c3c">Wild</text><text transform="translate(264.5 209.85) scale(0.94 1)" font-size="6.15" font-weight="bold" text-anchor="middle" fill="#1a1a1a" stroke="#1a1a1a" stroke-width="0.12">HECW1 mutation status</text><text x="265.6" y="219.7" font-size="7.2" font-weight="bold" font-style="italic" text-anchor="middle" fill="#111" stroke="#111" stroke-width="0.18">(p=8.54x10<tspan font-size="4.5" dy="-2.3" stroke-width="0.1">−04</tspan><tspan dy="2.3">)</tspan></text></g>
<g><path d="M220.7 228.7V307.8H308" stroke="#9c9c9c" stroke-width="0.85" fill="none"/><text x="220.3" y="233.3" font-size="5.05" text-anchor="end" fill="#3c3c3c">5000</text><text x="220.3" y="248.6" font-size="5.05" text-anchor="end" fill="#3c3c3c">4000</text><text x="220.3" y="263.6" font-size="5.05" text-anchor="end" fill="#3c3c3c">3000</text><text x="220.3" y="279" font-size="5.05" text-anchor="end" fill="#3c3c3c">2000</text><text x="220.3" y="293.9" font-size="5.05" text-anchor="end" fill="#3c3c3c">1000</text><text x="220.3" y="309.2" font-size="5.05" text-anchor="end" fill="#3c3c3c">0</text><text transform="translate(206.3 269.95) rotate(-90) scale(0.94 1)" font-size="6.1" font-weight="bold" text-anchor="middle" fill="#1a1a1a" stroke="#1a1a1a" stroke-width="0.12">JADE2 expression</text><text x="175.8" y="239.8" font-size="11" fill="#000">(H)</text><path d="M284.25 236.8V272.5M284.25 293.9V303.3" stroke="#0c8c1c" stroke-width="1" fill="none"/><rect x="269.2" y="272.5" width="30.1" height="21.4" fill="#e0f4e0" stroke="#0c8c1c" stroke-width="1.05"/><path d="M269.2 286.3H299.3" stroke="#0c8c1c" stroke-width="1.68"/><path d="M290.9 303.5h0M279.6 303.2h0M283.8 303h0M281.6 302.8h0M291 302.4h0M287.6 302.1h0M277.4 302h0M278.5 301.6h0M276.4 301.3h0M288.5 301.1h0M291.1 300.8h0M291.2 300.4h0M279.6 300.3h0M274.6 300.2h0M281.9 300.1h0M291.4 300.1h0M274.4 300h0M278.9 299.9h0M274.8 299.8h0M288.4 299.8h0M284.3 299.7h0M280 299.6h0M281.7 299.5h0M291.9 299.4h0M291.1 299.4h0M288.4 299.3h0M288.1 299.2h0M290.4 299.1h0M285 299.1h0M282.3 299h0M288.4 298.9h0M289.8 298.8h0M286.2 298.8h0M290.4 298.7h0M280.8 298.6h0M281.7 298.5h0M280.9 298.5h0M292.8 298.4h0M287.5 298.3h0M289.8 298.2h0M283.5 298.2h0M280.6 298.1h0M286.6 298.1h0M279.3 297.9h0M292 297.9h0M277 297.8h0M281 297.7h0M294.1 297.6h0M290.1 297.6h0M277.8 297.5h0M277.8 297.4h0M283.3 297.4h0M283.9 297.3h0M293.2 297.2h0M291.2 297.1h0M286 297h0M280.4 297h0M282.2 296.9h0M284.4 296.8h0M286.4 296.8h0M278.4 296.6h0M274.6 296.6h0M275.4 296.6h0M290.9 296.5h0M293.5 296.4h0M286 296.3h0M274.6 296.2h0M279.5 296.2h0M275.6 296.1h0M281.8 296h0M282.4 295.9h0M288.8 295.9h0M286.2 295.8h0M286.2 295.7h0M293.9 295.6h0M275.3 295.5h0M287.5 295.4h0M292.6 295.4h0M292.1 295.3h0M285.8 295.3h0M280.2 295.2h0M286.6 295.1h0M285.1 295h0M285.6 294.9h0M285.6 294.8h0M274.9 294.8h0M285.3 294.7h0M293.5 294.6h0M283.8 294.6h0M284.9 294.5h0M293.1 294.4h0M280.7 294.4h0M275.5 294.2h0M275 294.2h0M290.2 294.1h0M281.9 294.1h0M288.3 294h0M286.3 293.9h0M286 293.8h0M289.8 293.7h0M279.2 293.6h0M282 293.6h0M290.3 293.5h0M285.4 293.5h0M292.9 293.3h0M279.7 293.3h0M292.9 293.2h0M291 293.1h0M285.2 293.1h0M275.6 292.9h0M277.4 292.9h0M280.4 292.8h0M285.8 292.7h0M290.2 292.7h0M277.2 292.6h0M290.6 292.5h0M293 292.4h0M278.9 292.3h0M291.5 292.3h0M276.3 292.2h0M289.7 292.1h0M290.8 292h0M280.8 291.9h0M292.6 291.8h0M287.9 291.8h0M291.2 291.7h0M279.8 291.6h0M285.1 291.6h0M291.4 291.5h0M279.1 291.4h0M287.7 291.3h0M289.8 291.3h0M280.4 291.2h0M279.9 291.1h0M283.6 291h0M277.5 290.9h0M281.3 290.9h0M277.6 290.8h0M289.3 290.7h0M287.6 290.7h0M279.2 290.6h0M291.6 290.5h0M283.3 290.4h0M281.1 290.4h0M290 290.3h0M289.9 290.1h0M288.2 290.1h0M282 290h0M279.9 289.9h0M278.6 289.8h0M279.9 289.8h0M287 289.7h0M281.9 289.6h0M293 289.5h0M285.6 289.5h0M279.4 289.4h0M276.4 289.3h0M289.6 289.2h0M282.9 289.2h0M283.9 289h0M291 289h0M281.8 288.9h0M287 288.9h0M292.6 288.7h0M280.4 288.7h0M280 288.6h0M283.6 288.5h0M292.3 288.4h0M283.8 288.3h0M277.1 288.3h0M287 288.2h0M282.5 288.1h0M274.8 288h0M290.6 287.9h0M290.8 287.9h0M289.2 287.8h0M282.5 287.7h0M290.2 287.7h0M276.1 287.6h0M278.7 287.5h0M282.6 287.4h0M292 287.3h0M286.9 287.2h0M276.5 287.2h0M284.6 287.2h0M283.2 287h0M282.5 286.9h0M282.6 286.9h0M292.9 286.8h0M285.1 286.7h0M279.3 286.7h0M284.1 286.6h0M293.7 286.5h0M278.4 286.4h0M277.5 286.4h0M289.8 286.3h0M279 286h0M283.1 285.9h0M284.9 285.8h0M275.7 285.7h0M288 285.5h0M292.5 285.4h0M280.3 285.2h0M285.3 285.2h0M278.8 284.9h0M284 284.9h0M288.9 284.7h0M279.9 284.5h0M279 284.4h0M277.9 284.3h0M283.3 284.1h0M281.2 283.9h0M286.1 283.8h0M282.1 283.7h0M278.1 283.5h0M287.7 283.3h0M287 283.3h0M281 283.2h0M291 283h0M283.2 282.9h0M289.8 282.6h0M280.3 282.5h0M288.3 282.4h0M288.7 282.3h0M289.4 282.1h0M290.5 282h0M281.8 281.8h0M274.5 281.6h0M274.9 281.5h0M282 281.4h0M280.6 281.2h0M289.9 281.2h0M289.3 281h0M275.1 280.9h0M278.7 280.7h0M274.4 280.6h0M287.5 280.5h0M287 280.2h0M288.9 280.2h0M278.4 280h0M286.2 279.9h0M278.3 279.7h0M281.1 279.6h0M281.2 279.5h0M285.8 279.3h0M288.8 279.2h0M289.2 279.1h0M276.3 278.9h0M284.5 278.8h0M291.9 278.6h0M280 278.4h0M288.1 278.3h0M279.4 278.2h0M293.3 278h0M280.9 277.9h0M278.3 277.8h0M292.1 277.6h0M290.9 277.5h0M274.6 277.3h0M279.7 277.1h0M276.7 277.1h0M276.7 276.9h0M279.3 276.8h0M283.2 276.6h0M284.8 276.5h0M288.7 276.3h0M292.5 276.2h0M285.5 276h0M280.9 275.9h0M291.9 275.8h0M276.3 275.6h0M291.9 275.4h0M288.2 275.4h0M285 275.2h0M281.3 275h0M287.5 274.9h0M286.8 274.8h0M293.8 274.6h0M288.4 274.5h0M279.8 274.4h0M277.3 274.3h0M277.8 274.1h0M276.3 273.9h0M291.4 273.8h0M278.7 273.7h0M283.7 273.5h0M281 273.3h0M293.3 273.2h0M293.5 273.1h0M278.3 272.9h0M293 272.8h0M291.2 272.7h0M289.2 272.4h0M276.3 272.2h0M276.4 271.9h0M288.7 271.7h0M287.9 271.6h0M289.2 271.3h0M292.8 271.2h0M290.3 270.9h0M290.4 270.6h0M285.1 270.4h0M284 270.2h0M291.4 270h0M282.8 269.6h0M293.1 269.3h0M276 269h0M288.8 268.9h0M274.7 268.7h0M283 268.3h0M290.5 268.2h0M274.9 268h0M279.7 267.6h0M277.1 267.6h0M289 267.1h0M277.3 267.1h0M287.5 266.7h0M276.9 266.5h0M293.1 266.3h0M282.6 266.2h0M294.1 265.9h0M293.2 265.7h0M288.8 265.3h0M288.1 265.2h0M284.1 264.9h0M284.5 264.7h0M277 264.3h0M282.7 264.1h0M279.1 264h0M287.2 263.7h0M292 263.4h0M284.5 263.2h0M278.6 262.8h0M280.9 262.8h0M276.8 262.4h0M275 262.1h0M283.9 261.6h0M288.2 261.2h0M289.4 261h0M288.8 260.8h0M285.3 260.5h0M289.7 260h0M281.2 259.8h0M290.3 259.3h0M276.7 258.9h0M276.5 258.8h0M289.1 258.3h0M289.8 258h0M285.5 257.7h0M287.2 257.2h0M286 257h0M289.3 256.7h0M276.9 256.3h0M282.7 256h0M285.5 255.7h0M282.1 255.4h0M281.7 255h0M276.1 254.5h0M288.6 254.5h0M283.2 254.1h0M281.6 253.7h0M274.7 253.4h0M292.9 252.9h0M283.6 252.6h0M275.5 252h0M290.9 251.2h0M279.4 251h0M290.1 250.2h0M282 249.7h0M290.2 249.3h0M291.3 248.4h0M286.1 248.3h0M288.5 247.2h0M277.2 247h0M288.8 246.6h0M290.4 246.1h0M283.7 245.2h0M292.8 244.5h0M276.3 244.1h0M282.7 243.5h0M292.7 243.2h0M276.8 241.7h0M281.1 241.2h0M280.8 239.8h0M290.5 239h0M288.6 238.2h0M293.1 237.1h0M280.8 235.5h0M276.5 234.8h0M286.7 234h0" stroke="#0c8c1c" stroke-width="1.52" stroke-linecap="round" fill="none"/><path d="M244.8 284.4V289.5M244.8 298.7V303.8" stroke="#fa1216" stroke-width="1.1" fill="none"/><rect x="229.6" y="289.5" width="30.4" height="9.2" fill="#feeeee" stroke="#fa1216" stroke-width="1.1"/><path d="M229.6 293.5H260" stroke="#fa1216" stroke-width="1.76"/><path d="M241.3 297.1h0M236.5 296.5h0M237.6 294.2h0M247.4 293.2h0M245.1 291.3h0M246.7 290.9h0" stroke="#fa1216" stroke-width="1.1" stroke-linecap="round" fill="none"/><path d="M250.2 265.1h0M245.9 286.7h0M234.6 288.3h0M236.6 299.9h0M238.9 300.2h0M250.8 300.4h0M249.7 303.8h0" stroke="#fa1216" stroke-width="1.4" stroke-linecap="round" fill="none"/><text x="244.8" y="312.45" font-size="5.2" text-anchor="middle" fill="#3c3c3c">Mutant</text><text x="284.25" y="312.45" font-size="5.2" text-anchor="middle" fill="#3c3c3c">Wild</text><text transform="translate(264.4 318.8) scale(0.94 1)" font-size="6.15" font-weight="bold" text-anchor="middle" fill="#1a1a1a" stroke="#1a1a1a" stroke-width="0.12">MYOM3 mutation status</text><text x="270.9" y="331" font-size="7.2" font-weight="bold" font-style="italic" text-anchor="middle" fill="#111" stroke="#111" stroke-width="0.18">(p=1.67x10<tspan font-size="4.5" dy="-2.3" stroke-width="0.1">−03</tspan><tspan dy="2.3">)</tspan></text></g>
<g><path d="M222.4 340.5V417H308.8" stroke="#9c9c9c" stroke-width="0.85" fill="none"/><text x="222" y="345.2" font-size="5.05" text-anchor="end" fill="#3c3c3c">8000</text><text x="222" y="363.2" font-size="5.05" text-anchor="end" fill="#3c3c3c">6000</text><text x="222" y="381.2" font-size="5.05" text-anchor="end" fill="#3c3c3c">4000</text><text x="222" y="399.3" font-size="5.05" text-anchor="end" fill="#3c3c3c">2000</text><text x="222" y="417.7" font-size="5.05" text-anchor="end" fill="#3c3c3c">0</text><text transform="translate(208 380.45) rotate(-90) scale(0.94 1)" font-size="6.1" font-weight="bold" text-anchor="middle" fill="#1a1a1a" stroke="#1a1a1a" stroke-width="0.12">JADE2 expression</text><text x="175.8" y="344.8" font-size="11" fill="#000">(I)</text><path d="M285.25 374.5V393.8M285.25 407V413.4" stroke="#0c8c1c" stroke-width="1" fill="none"/><rect x="270.4" y="393.8" width="29.7" height="13.2" fill="#e0f4e0" stroke="#0c8c1c" stroke-width="1.05"/><path d="M270.4 402.5H300.1" stroke="#0c8c1c" stroke-width="1.68"/><path d="M290.8 414h0M280.5 413.9h0M293.3 413.8h0M279.2 413.8h0M279.6 413.7h0M283.2 413.6h0M283.3 413.5h0M283.2 413.5h0M293.2 413.4h0M293.6 413.3h0M294.7 413.3h0M288.9 413.2h0M280.7 413.1h0M292.9 413.1h0M289.2 413h0M285.8 412.9h0M278.9 412.8h0M288.8 412.8h0M275.4 412.7h0M283.9 412.6h0M280.5 412.6h0M291.6 412.5h0M281.8 412.4h0M281.1 412.3h0M282.2 412.3h0M291 412.1h0M292.9 412.1h0M277.6 412h0M278.6 412h0M285.8 411.9h0M286.9 411.8h0M280.1 411.7h0M290.3 411.6h0M276.3 411.6h0M280.4 411.5h0M277.7 411.4h0M282.4 411.4h0M281.2 411.3h0M279.3 411.3h0M294.7 411.1h0M288.8 411.1h0M280.7 411h0M294.8 411h0M287.5 410.9h0M279 410.8h0M293.8 410.7h0M278.6 410.7h0M288.4 410.6h0M278.9 410.5h0M277.5 410.4h0M280.1 410.4h0M284.8 410.3h0M289.7 410.2h0M284.6 410.1h0M291.8 410.1h0M281.6 410h0M287.3 410h0M277.9 409.9h0M292.2 409.8h0M277.5 409.7h0M291.1 409.6h0M278.4 409.6h0M281.7 409.5h0M278.6 409.5h0M277.9 409.4h0M286.3 409.3h0M283.3 409.2h0M277.1 409.1h0M293.8 409.1h0M293.6 409h0M286 408.9h0M286.7 408.8h0M280.4 408.8h0M292.7 408.8h0M283.4 408.7h0M277.3 408.6h0M291.1 408.5h0M292.8 408.4h0M278.2 408.4h0M289.1 408.3h0M282.1 408.2h0M291.8 408.2h0M291.4 408.1h0M281.7 408h0M290.1 407.9h0M282.3 407.8h0M283.3 407.8h0M290.4 407.7h0M282.5 407.6h0M292.9 407.6h0M281.4 407.5h0M279.2 407.5h0M276.1 407.3h0M285.8 407.3h0M286 407.2h0M286.4 407.2h0M293.6 407.1h0M278.1 407h0M288 406.9h0M289.1 406.9h0M276.4 406.8h0M280 406.8h0M278.4 406.8h0M290.6 406.7h0M285.8 406.7h0M290.1 406.6h0M284.8 406.6h0M294.4 406.5h0M288.8 406.5h0M289.8 406.5h0M291.2 406.4h0M292.8 406.4h0M284.3 406.3h0M291.3 406.3h0M294.4 406.2h0M293.1 406.2h0M285 406.1h0M278.3 406.1h0M289.5 406h0M282.7 406h0M288.2 405.9h0M277.8 405.9h0M286.6 405.9h0M280.5 405.8h0M276.9 405.8h0M291.9 405.7h0M284.1 405.7h0M287.3 405.6h0M294.7 405.6h0M289.7 405.5h0M276.8 405.5h0M282.2 405.4h0M283.7 405.4h0M291.9 405.3h0M279.7 405.3h0M275.8 405.3h0M276.5 405.2h0M281.3 405.2h0M286.5 405.1h0M281.3 405.1h0M289 405h0M284.7 405h0M281 404.9h0M284.6 404.9h0M279 404.8h0M292.8 404.8h0M291.5 404.7h0M278.8 404.7h0M290 404.7h0M277.6 404.6h0M282.3 404.6h0M287.2 404.5h0M292.1 404.5h0M293.3 404.4h0M281.4 404.4h0M294.5 404.3h0M291.7 404.3h0M286.1 404.3h0M294.8 404.2h0M277.4 404.1h0M295.1 404.1h0M294.3 404h0M275.9 404h0M280.6 403.9h0M282.5 403.9h0M293.8 403.9h0M292.7 403.8h0M291.6 403.8h0M283.6 403.7h0M280.4 403.7h0M286.9 403.6h0M289.4 403.6h0M277.2 403.5h0M276.8 403.5h0M282.2 403.4h0M276.9 403.4h0M291.2 403.3h0M291.1 403.3h0M293.7 403.2h0M280.8 403.2h0M294.8 403.2h0M288.6 403.1h0M283.4 403.1h0M292.2 403h0M292.4 403h0M286 403h0M278.2 402.9h0M284 402.8h0M283.5 402.8h0M283.8 402.7h0M277.2 402.7h0M278 402.7h0M291.3 402.6h0M292.8 402.6h0M275.5 402.5h0M287.2 402.4h0M275.7 402.4h0M280 402.3h0M294.8 402.2h0M276.8 402.1h0M277.5 402h0M284 401.9h0M281.8 401.8h0M284.8 401.8h0M283.3 401.7h0M281.8 401.5h0M279 401.4h0M287.8 401.4h0M293.5 401.3h0M290.1 401.2h0M282.7 401.1h0M287.5 401.1h0M284.7 400.9h0M288.9 400.9h0M283.7 400.8h0M284.5 400.7h0M293.1 400.6h0M286.4 400.4h0M279.8 400.4h0M290 400.3h0M289 400.2h0M283.1 400.1h0M284 400h0M292.5 399.9h0M282.2 399.9h0M276.6 399.7h0M284.8 399.7h0M287.8 399.6h0M288.6 399.5h0M276.8 399.5h0M283.9 399.4h0M285.8 399.3h0M279.4 399.1h0M283.5 399h0M282.4 398.9h0M286.1 398.9h0M290.8 398.8h0M280.3 398.8h0M292.8 398.6h0M276.1 398.5h0M287.4 398.5h0M277.5 398.3h0M283.1 398.2h0M283.7 398.2h0M295 398.1h0M293.5 398h0M289.2 397.9h0M276 397.8h0M288.7 397.7h0M281.5 397.6h0M293.6 397.6h0M275.7 397.5h0M282.3 397.4h0M294.7 397.3h0M291.5 397.2h0M283.6 397.1h0M289.7 397h0M291 396.9h0M277.7 396.8h0M277.2 396.8h0M291.8 396.6h0M280 396.6h0M277.7 396.4h0M275.4 396.4h0M283.6 396.3h0M291.2 396.2h0M294.9 396.1h0M293.7 396h0M277 395.9h0M279.8 395.8h0M282.1 395.8h0M276.5 395.6h0M277.9 395.6h0M285.2 395.5h0M285.6 395.4h0M282 395.3h0M290.1 395.2h0M292.9 395.1h0M292.1 395.1h0M286.7 394.9h0M286.6 394.9h0M277.3 394.8h0M277.8 394.7h0M289.5 394.6h0M287.5 394.5h0M289.6 394.5h0M287.6 394.3h0M286.5 394.3h0M280.7 394.2h0M292.5 394.1h0M293.8 394h0M280.6 393.9h0M276.5 393.8h0M286 393.6h0M293.4 393.3h0M288 393h0M290.9 392.8h0M275.4 392.6h0M291 392.2h0M277.6 392.2h0M288.4 391.9h0M275.7 391.7h0M275.5 391.3h0M282.9 391.1h0M275.4 390.9h0M280.2 390.7h0M283.6 390.4h0M281.8 390.1h0M291.9 390h0M285.1 389.5h0M280 389.5h0M284.4 389h0M291.6 388.9h0M277.8 388.5h0M286.5 388.4h0M281.7 388.2h0M288.7 387.9h0M287.6 387.6h0M276.7 387.4h0M291.9 387.3h0M293.3 386.8h0M290.6 386.8h0M282.2 386.5h0M292.4 386.2h0M291.8 385.8h0M293.9 385.7h0M286.7 385.5h0M280 385.1h0M277.3 384.9h0M279 384.6h0M280.9 384.5h0M288 384.1h0M292.3 383.9h0M279.5 383.6h0M278.7 383.4h0M278.3 383.3h0M282.3 383.1h0M288.3 382.6h0M279.7 382.6h0M285.8 382.2h0M277.2 382.1h0M287.3 381.7h0M290.7 381.6h0M287 381.3h0M282.1 381h0M283.2 380.6h0M286 380.5h0M294.9 380h0M286 379.6h0M288 379.2h0M294.6 378.7h0M279.6 378.4h0M284.1 378h0M290.8 377.8h0M289.4 377.4h0M283.8 376.8h0M289.7 376.3h0M295.1 375.8h0M280.6 375.4h0M285.2 375.1h0M284.2 374.6h0M275.9 374.4h0M285.9 373.9h0M277.4 373.6h0M276.7 373.1h0M284.1 372.8h0M285.3 372.3h0M283 371.8h0M275.7 371.6h0M294.6 371h0M282.3 370.7h0M290.1 370.2h0M291.1 369.7h0M278 369.2h0M282.7 367.9h0M283 366.6h0M284 365h0M294.4 364.3h0M287.1 363.2h0M282 362h0M294.3 361.7h0M286.9 360.1h0M290.1 359.6h0M288.1 358.2h0M293.5 357.2h0M280.8 356.1h0M279.8 353.4h0M285 352.4h0M277.6 348.2h0M291.1 347.6h0" stroke="#0c8c1c" stroke-width="1.52" stroke-linecap="round" fill="none"/><path d="M245.55 343.6V364.5M245.55 391.1V405.5" stroke="#fa1216" stroke-width="1.1" fill="none"/><rect x="230.5" y="364.5" width="30.1" height="26.6" fill="#feeeee" stroke="#fa1216" stroke-width="1.1"/><path d="M230.5 378H260.6" stroke="#fa1216" stroke-width="1.76"/><path d="M243.7 390.2h0M250.2 383.1h0M237.1 378.9h0M242.4 374.2h0M244.9 370.2h0M245.1 365.6h0" stroke="#fa1216" stroke-width="1.1" stroke-linecap="round" fill="none"/><path d="M240 343.4h0M250 361.2h0M254.4 371.7h0M236.6 377.5h0M238.6 381.3h0M238.6 394.2h0M241.7 402.7h0M253.3 405.8h0" stroke="#fa1216" stroke-width="1.4" stroke-linecap="round" fill="none"/><text x="245.55" y="422.6" font-size="5.2" text-anchor="middle" fill="#3c3c3c">Mutant</text><text x="285.25" y="422.6" font-size="5.2" text-anchor="middle" fill="#3c3c3c">Wild</text><text transform="translate(265.8 428.65) scale(0.94 1)" font-size="6.15" font-weight="bold" text-anchor="middle" fill="#1a1a1a" stroke="#1a1a1a" stroke-width="0.12">ZNF800 mutation status</text><text x="266.5" y="439" font-size="7.2" font-weight="bold" font-style="italic" text-anchor="middle" fill="#111" stroke="#111" stroke-width="0.18">(p=6.74x10<tspan font-size="4.5" dy="-2.3" stroke-width="0.1">−04</tspan><tspan dy="2.3">)</tspan></text></g>
<g><path d="M221.55 446.1V524.5H308" stroke="#9c9c9c" stroke-width="0.85" fill="none"/><text x="221.15" y="454.1" font-size="5.05" text-anchor="end" fill="#3c3c3c">5000</text><text x="221.15" y="468.4" font-size="5.05" text-anchor="end" fill="#3c3c3c">4000</text><text x="221.15" y="483" font-size="5.05" text-anchor="end" fill="#3c3c3c">3000</text><text x="221.15" y="497.3" font-size="5.05" text-anchor="end" fill="#3c3c3c">2000</text><text x="221.15" y="511.7" font-size="5.05" text-anchor="end" fill="#3c3c3c">1000</text><text x="221.15" y="525.8" font-size="5.05" text-anchor="end" fill="#3c3c3c">0</text><text transform="translate(207.15 487) rotate(-90) scale(0.94 1)" font-size="6.1" font-weight="bold" text-anchor="middle" fill="#1a1a1a" stroke="#1a1a1a" stroke-width="0.12">JADE2 expression</text><text x="175.6" y="457.9" font-size="11" fill="#000">(J)</text><path d="M284.7 456.8V490.4M284.7 511.6V521" stroke="#0c8c1c" stroke-width="1" fill="none"/><rect x="269.5" y="490.4" width="30.4" height="21.2" fill="#e0f4e0" stroke="#0c8c1c" stroke-width="1.05"/><path d="M269.5 503.8H299.9" stroke="#0c8c1c" stroke-width="1.68"/><path d="M277.8 521.7h0M275.8 521.3h0M292.1 521.1h0M291.9 520.7h0M284.3 520.5h0M276.9 520.1h0M293.1 519.9h0M284.9 519.4h0M291.8 519.2h0M286.6 518.8h0M292.1 518.7h0M279.6 518.4h0M284.9 518.2h0M283.9 518.1h0M277.6 518h0M285.4 517.9h0M291.3 517.9h0M293.1 517.7h0M276.2 517.7h0M283.7 517.6h0M289.5 517.6h0M277.5 517.4h0M294 517.4h0M283.7 517.3h0M283.8 517.3h0M290.4 517.2h0M280.3 517.1h0M275 517h0M276.7 516.9h0M283.2 516.8h0M279.2 516.7h0M279.3 516.7h0M276.5 516.7h0M282.5 516.6h0M281.8 516.4h0M275.5 516.4h0M285.5 516.3h0M286.3 516.3h0M281.3 516.2h0M288.5 516.1h0M276.9 516h0M280 516h0M294 515.8h0M291.9 515.7h0M290.5 515.7h0M284.2 515.6h0M286.7 515.5h0M279.1 515.5h0M286.9 515.4h0M291.8 515.3h0M275 515.3h0M280 515.1h0M292 515.1h0M290.5 515h0M285.9 514.9h0M274.9 514.8h0M287 514.8h0M285 514.7h0M279.2 514.6h0M276.4 514.5h0M279.8 514.5h0M285.6 514.4h0M293.9 514.3h0M279.5 514.2h0M291.7 514.1h0M283.4 514.1h0M294.3 514h0M278.4 513.9h0M281.2 513.8h0M288.9 513.8h0M284.9 513.7h0M286.7 513.6h0M284.1 513.5h0M280.5 513.4h0M284.9 513.4h0M279.2 513.3h0M284.7 513.2h0M279.8 513.2h0M292.7 513h0M279.7 513h0M287.3 512.9h0M291.8 512.9h0M281.5 512.7h0M288.3 512.7h0M282 512.6h0M288.3 512.5h0M276.8 512.4h0M279.9 512.4h0M287.5 512.3h0M293.1 512.2h0M293 512.1h0M285 512.1h0M284 512h0M284.5 511.9h0M281.8 511.9h0M287.1 511.8h0M284.2 511.7h0M289.9 511.6h0M275.4 511.6h0M286.6 511.4h0M284.7 511.3h0M283.7 511.3h0M286.7 511.2h0M277.3 511.2h0M285.6 511h0M288.8 511h0M291.9 510.8h0M290.8 510.8h0M284 510.8h0M281.6 510.6h0M291.9 510.6h0M274.9 510.5h0M285.8 510.4h0M287 510.3h0M276.9 510.2h0M278.4 510.2h0M277.8 510.1h0M275.7 510h0M287.6 509.9h0M290 509.8h0M292 509.8h0M293.3 509.7h0M276.4 509.6h0M278.2 509.5h0M285.5 509.4h0M284.6 509.3h0M287.9 509.3h0M283.9 509.2h0M283.1 509.1h0M279.3 509h0M284.4 509h0M276.1 508.9h0M294 508.8h0M290.1 508.7h0M276.5 508.7h0M292 508.6h0M275.8 508.5h0M287.1 508.4h0M288 508.3h0M278.4 508.2h0M277.4 508.1h0M291.7 508.1h0M284.9 508h0M284.6 507.9h0M285.7 507.8h0M281.8 507.8h0M294.5 507.7h0M287.7 507.6h0M291.7 507.5h0M290.7 507.5h0M286.8 507.3h0M280.1 507.3h0M285.5 507.2h0M291.4 507.1h0M282.9 507.1h0M276.3 507h0M288.4 506.8h0M285.6 506.8h0M276.2 506.7h0M288.4 506.7h0M284.6 506.6h0M279.2 506.5h0M281.6 506.4h0M292.7 506.3h0M280.3 506.2h0M276.9 506.2h0M276.3 506.1h0M293.7 506h0M282 505.9h0M293.2 505.9h0M291.5 505.8h0M276.2 505.7h0M287.6 505.6h0M283.2 505.5h0M285.2 505.4h0M292.5 505.3h0M275 505.3h0M287.6 505.2h0M276.3 505.1h0M292.6 505.1h0M284.2 505h0M278.7 504.8h0M276 504.8h0M289.4 504.7h0M289.8 504.7h0M291.2 504.5h0M293.6 504.5h0M285.6 504.4h0M290.8 504.3h0M288 504.2h0M281.5 504.2h0M291.8 504.1h0M280.6 504h0M276 503.9h0M281.3 503.9h0M293.6 503.8h0M282.5 503.6h0M285.4 503.4h0M283.5 503.3h0M293.8 503.2h0M285.2 503.1h0M277.6 502.9h0M284.8 502.8h0M283.4 502.6h0M293.3 502.6h0M292.3 502.4h0M287.7 502.3h0M280 502.1h0M289.8 502h0M283.1 501.8h0M285.1 501.7h0M293.7 501.6h0M277.4 501.4h0M281.8 501.3h0M275.6 501.1h0M282 501h0M280.7 500.8h0M281.1 500.7h0M280.4 500.6h0M283 500.4h0M280.6 500.3h0M285.8 500.2h0M287.7 500h0M276.5 499.9h0M277.7 499.8h0M278.4 499.7h0M281.5 499.4h0M279.4 499.3h0M278.4 499.2h0M288.3 499.1h0M279.8 498.9h0M288.2 498.7h0M286.8 498.7h0M283.5 498.5h0M282 498.4h0M282.2 498.2h0M276.5 498.1h0M291.9 497.9h0M282.2 497.8h0M279.8 497.7h0M277.3 497.6h0M284.9 497.4h0M293.9 497.2h0M293.5 497.1h0M275.3 497h0M294.1 496.9h0M287 496.7h0M283.4 496.6h0M277.7 496.5h0M280.2 496.3h0M292 496.2h0M292.1 496h0M286.2 495.9h0M291.2 495.8h0M287.6 495.7h0M281.2 495.5h0M284.4 495.4h0M291 495.2h0M278.5 495.1h0M290.7 495h0M287.4 494.8h0M276.4 494.7h0M284.6 494.5h0M284.2 494.4h0M282.5 494.2h0M283.1 494.1h0M275.7 494h0M286.3 493.8h0M280.4 493.7h0M293.3 493.6h0M282.3 493.4h0M285.7 493.3h0M275.5 493.2h0M278 493h0M275.1 492.9h0M278.1 492.8h0M286.9 492.6h0M287.9 492.4h0M275.1 492.3h0M284.5 492.1h0M275.6 492h0M284.2 491.9h0M282.8 491.8h0M286.3 491.7h0M288.7 491.5h0M288.5 491.4h0M288.9 491.2h0M280.6 491h0M282.7 490.9h0M291.1 490.8h0M286.7 490.6h0M292.8 490.6h0M293.6 490.3h0M291.1 490.2h0M291.4 489.9h0M283.8 489.7h0M290.6 489.5h0M285.5 489.2h0M275.4 489h0M284 488.9h0M291.5 488.7h0M292.3 488.5h0M277.5 488.2h0M288.2 487.9h0M286.6 487.7h0M293.6 487.5h0M285.5 487.2h0M283 487h0M277 486.8h0M293.2 486.5h0M285.6 486.3h0M276.7 486.2h0M285.5 486h0M291.9 485.6h0M289.6 485.5h0M284.3 485.1h0M278.5 484.9h0M285 484.8h0M283.7 484.5h0M292 484.4h0M283.1 484.1h0M284.4 483.9h0M282 483.6h0M284.6 483.4h0M293.9 483.3h0M285.6 483h0M278.9 482.6h0M278.9 482.6h0M291.7 482.4h0M275.6 482.1h0M284.9 481.9h0M280.9 481.7h0M283.6 481.3h0M286.6 481.2h0M285.1 481h0M276.6 480.5h0M280.9 480.2h0M287 479.8h0M286.8 479.5h0M278.5 479.4h0M290.8 478.9h0M283.1 478.8h0M284.1 478.4h0M285.9 477.9h0M289.9 477.6h0M287.1 477.4h0M284.2 477.1h0M288 476.7h0M291.4 476.5h0M281 476.2h0M294.3 475.7h0M293.7 475.5h0M293.7 475.3h0M275.5 474.9h0M278 474.5h0M274.9 474.1h0M281.9 474h0M284.1 473.7h0M289.4 473.3h0M293.9 473h0M278.2 472.5h0M292.5 472.2h0M285.2 472h0M281.2 471.7h0M278.7 471.2h0M281.2 470.4h0M286.1 469.8h0M276.5 469.3h0M284.9 468.7h0M279.5 468.3h0M282.8 467.7h0M286.4 467.2h0M280.8 467h0M275.1 466.1h0M285.6 465.7h0M281.3 465.1h0M284.2 464.7h0M276.2 464h0M279.9 463.6h0M279.9 463.1h0M279.4 462.7h0M282 461.2h0M289.4 460.2h0M285.8 459.9h0M293.3 459.2h0M277 457.6h0M284.6 456.8h0M280.5 455.7h0M287.1 454.5h0M291 454.4h0" stroke="#0c8c1c" stroke-width="1.52" stroke-linecap="round" fill="none"/><path d="M245.1 501.5V507.3M245.1 515.4V517.6" stroke="#fa1216" stroke-width="1.1" fill="none"/><rect x="230.1" y="507.3" width="30" height="8.1" fill="#feeeee" stroke="#fa1216" stroke-width="1.1"/><path d="M230.1 511.5H260.1" stroke="#fa1216" stroke-width="1.76"/><path d="M240.8 513.8h0M253 512.9h0M235.6 511.6h0M239.6 510.5h0M249.2 509.3h0M253.9 508.5h0" stroke="#fa1216" stroke-width="1.1" stroke-linecap="round" fill="none"/><path d="M238.1 493.9h0M248.2 491.6h0M250.2 493.9h0M237.8 517.2h0M241.2 516.8h0M244.6 517.2h0M248.5 517.2h0M254.4 516.4h0" stroke="#fa1216" stroke-width="1.4" stroke-linecap="round" fill="none"/><text x="245.1" y="528.85" font-size="5.2" text-anchor="middle" fill="#3c3c3c">Mutant</text><text x="284.7" y="528.85" font-size="5.2" text-anchor="middle" fill="#3c3c3c">Wild</text><text transform="translate(265 536.2) scale(0.94 1)" font-size="6.15" font-weight="bold" text-anchor="middle" fill="#1a1a1a" stroke="#1a1a1a" stroke-width="0.12">AMER1 mutation status</text><text x="266.8" y="545.1" font-size="7.2" font-weight="bold" font-style="italic" text-anchor="middle" fill="#111" stroke="#111" stroke-width="0.18">(p=9.90x10<tspan font-size="4.5" dy="-2.3" stroke-width="0.1">−04</tspan><tspan dy="2.3">)</tspan></text></g>
</g></svg>
</body></html>
